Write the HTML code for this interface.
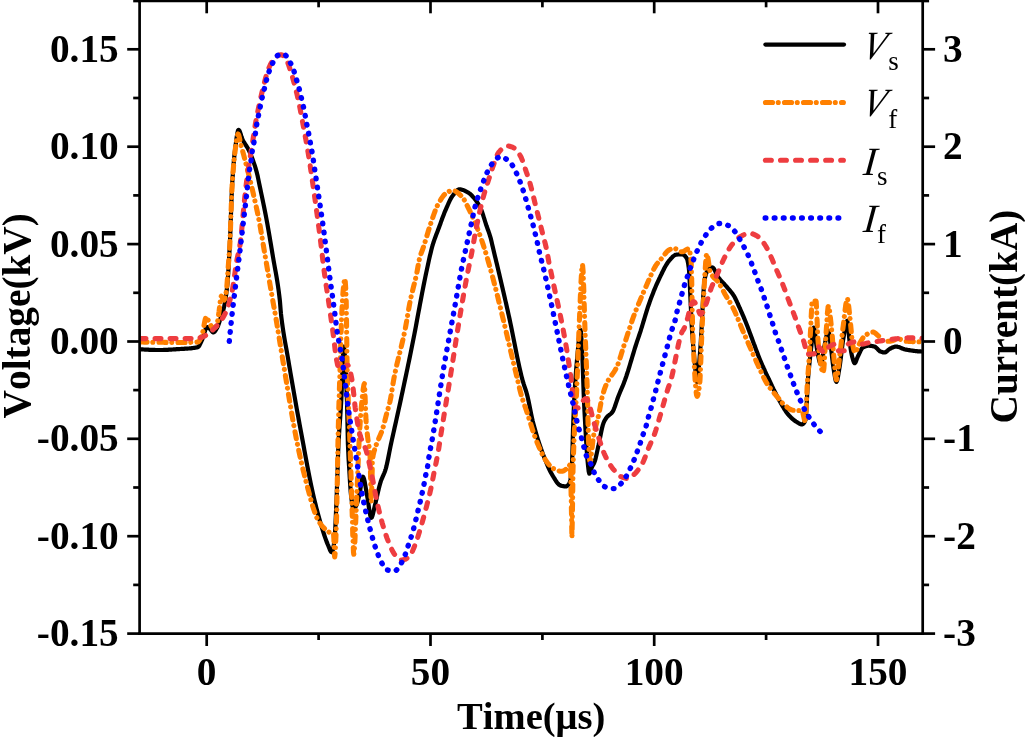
<!DOCTYPE html>
<html><head><meta charset="utf-8"><title>Voltage and current waveforms</title>
<style>html,body{margin:0;padding:0;background:#fff}svg{display:block}</style></head>
<body>
<svg width="1025" height="737" viewBox="0 0 1025 737">
<rect width="1025" height="737" fill="#fff"/>
<defs><clipPath id="plotclip"><rect x="139.6" y="0" width="783.1" height="633.65"/></clipPath></defs>
<g fill="none" stroke-linejoin="round" stroke-linecap="round" clip-path="url(#plotclip)">
<path d="M140.0,349.2 L140.7,349.3 L141.4,349.3 L142.1,349.4 L142.8,349.4 L143.5,349.5 L144.2,349.5 L144.9,349.6 L145.6,349.6 L146.3,349.6 L147.0,349.7 L147.7,349.7 L148.4,349.7 L149.1,349.8 L149.8,349.8 L150.5,349.8 L151.2,349.9 L151.9,349.9 L152.6,349.9 L153.3,349.9 L154.0,349.9 L154.7,349.9 L155.4,350.0 L156.1,350.0 L156.8,350.0 L157.5,350.0 L158.2,350.0 L158.9,350.0 L159.6,350.0 L160.0,350.0 L160.3,350.0 L161.0,350.0 L161.7,350.0 L162.4,350.0 L163.1,350.0 L163.8,349.9 L164.5,349.9 L165.2,349.9 L165.9,349.9 L166.6,349.8 L167.3,349.8 L168.0,349.8 L168.7,349.7 L169.4,349.7 L170.1,349.7 L170.8,349.6 L171.5,349.6 L172.2,349.5 L172.9,349.5 L173.6,349.4 L174.3,349.4 L175.0,349.3 L175.7,349.3 L176.4,349.2 L177.1,349.2 L177.8,349.2 L178.5,349.1 L179.2,349.1 L179.9,349.0 L180.0,349.0 L180.6,349.0 L181.3,348.9 L182.0,348.9 L182.7,348.8 L183.4,348.8 L184.1,348.8 L184.8,348.7 L185.5,348.7 L186.2,348.6 L186.9,348.6 L187.6,348.6 L188.3,348.5 L189.0,348.5 L189.7,348.4 L190.4,348.3 L191.1,348.3 L191.8,348.2 L192.5,348.1 L193.2,348.0 L193.9,347.9 L194.6,347.8 L195.3,347.7 L196.0,347.6 L196.7,347.4 L197.4,347.3 L197.8,347.2 L198.1,347.1 L198.8,346.4 L199.5,345.3 L200.2,343.9 L200.9,342.4 L201.6,340.8 L202.0,340.0 L202.3,339.3 L203.0,337.4 L203.7,335.1 L204.4,332.7 L205.1,330.5 L205.8,328.6 L206.5,327.4 L207.1,327.0 L207.2,327.0 L207.9,327.2 L208.6,327.7 L209.3,328.4 L210.0,329.0 L210.0,329.0 L210.7,329.7 L211.4,330.6 L212.1,331.5 L212.8,332.2 L213.4,332.4 L213.5,332.4 L214.2,332.1 L214.9,331.4 L215.6,330.4 L216.3,329.2 L217.0,328.0 L217.0,328.0 L217.7,326.6 L218.4,324.9 L219.1,322.9 L219.8,320.7 L220.5,318.5 L221.0,317.0 L221.2,316.4 L221.9,314.3 L222.6,312.2 L223.3,309.9 L224.0,307.2 L224.3,305.9 L224.7,304.0 L225.4,300.0 L226.1,295.3 L226.8,289.6 L227.4,284.0 L227.5,283.0 L228.2,273.9 L228.9,262.2 L229.6,248.9 L229.8,245.0 L230.3,233.3 L231.0,213.5 L231.7,194.4 L232.2,184.0 L232.4,180.7 L233.1,170.4 L233.8,161.6 L234.5,154.3 L235.0,150.0 L235.2,148.4 L235.9,142.9 L236.6,137.7 L237.3,133.5 L238.0,130.6 L238.6,129.8 L238.7,129.8 L239.4,130.6 L240.1,132.3 L240.8,134.5 L241.5,136.8 L242.2,138.8 L242.5,139.5 L242.9,140.3 L243.6,141.6 L244.3,142.7 L245.0,143.8 L245.7,144.9 L246.4,146.0 L247.1,147.1 L247.8,148.3 L248.3,149.3 L248.5,149.7 L249.2,151.2 L249.9,152.7 L250.6,154.3 L251.3,156.0 L252.0,157.8 L252.7,159.6 L253.2,161.0 L253.4,161.6 L254.1,163.6 L254.8,165.7 L255.5,167.9 L256.2,170.3 L256.9,172.9 L257.1,173.7 L257.6,175.8 L258.3,179.1 L259.0,182.6 L259.5,185.0 L259.7,186.0 L260.4,189.3 L261.1,192.6 L261.8,195.9 L262.5,199.2 L263.2,202.6 L263.9,206.0 L264.6,209.5 L265.3,213.0 L266.0,216.7 L266.1,217.2 L266.7,220.4 L267.4,224.2 L268.1,228.1 L268.8,232.1 L269.5,236.2 L270.2,240.3 L270.9,244.4 L271.6,248.6 L272.3,252.8 L273.0,257.0 L273.0,257.0 L273.7,261.1 L274.4,265.0 L275.1,268.9 L275.8,272.7 L276.5,276.7 L277.2,280.9 L277.9,285.4 L278.6,290.3 L279.3,295.8 L279.8,300.0 L280.0,302.0 L280.7,310.8 L281.0,314.0 L281.4,317.4 L282.1,323.0 L282.8,328.0 L283.5,332.6 L284.2,336.9 L284.9,341.0 L285.6,344.9 L286.3,348.7 L287.0,352.6 L287.7,356.5 L288.3,360.0 L288.4,360.6 L289.1,364.8 L289.8,368.9 L290.5,373.0 L291.2,377.1 L291.9,381.2 L292.6,385.2 L293.3,389.2 L294.0,393.2 L294.7,397.2 L295.4,401.1 L296.1,405.1 L296.8,409.0 L297.5,412.8 L298.2,416.7 L298.9,420.5 L299.6,424.4 L300.3,428.2 L301.0,431.9 L301.7,435.7 L302.4,439.5 L302.5,440.0 L303.1,443.2 L303.8,447.0 L304.5,450.8 L305.2,454.6 L305.9,458.3 L306.6,462.1 L307.3,465.8 L308.0,469.5 L308.7,473.2 L309.4,476.7 L310.1,480.2 L310.8,483.7 L311.5,487.0 L312.2,490.3 L312.9,493.4 L313.2,494.7 L313.6,496.4 L314.3,499.4 L315.0,502.3 L315.7,505.1 L316.4,507.9 L317.1,510.6 L317.8,513.3 L318.5,515.9 L319.2,518.4 L319.9,520.9 L320.6,523.3 L321.3,525.6 L322.0,527.9 L322.0,527.9 L322.7,530.1 L323.4,532.3 L324.1,534.5 L324.8,536.6 L325.5,538.6 L326.2,540.5 L326.9,542.4 L327.6,544.1 L328.0,545.0 L328.3,545.7 L329.0,547.5 L329.7,549.3 L330.4,550.8 L331.1,551.9 L331.8,552.3 L331.8,552.3 L332.5,551.3 L333.2,548.5 L333.9,544.3 L334.5,540.0 L334.6,539.1 L335.3,528.2 L336.0,512.1 L336.5,500.0 L336.7,495.0 L337.4,474.4 L338.1,453.5 L338.5,444.0 L338.8,438.3 L339.5,427.2 L340.2,417.5 L340.9,407.2 L341.2,402.0 L341.6,393.0 L342.3,372.9 L343.0,354.6 L343.7,346.6 L343.7,346.6 L344.4,349.8 L345.1,358.8 L345.8,372.2 L346.5,388.8 L347.0,402.0 L347.2,409.6 L347.9,444.0 L347.9,444.0 L348.6,458.9 L349.3,470.0 L349.3,470.0 L350.0,481.8 L350.7,492.0 L351.0,495.0 L351.4,498.3 L352.1,503.6 L352.8,507.5 L353.5,509.0 L353.5,509.0 L354.2,508.7 L354.9,507.9 L355.6,506.7 L356.3,505.4 L356.5,505.0 L357.0,503.8 L357.7,501.5 L358.4,498.7 L359.1,495.7 L359.5,494.0 L359.8,492.6 L360.5,488.5 L361.2,483.9 L361.9,479.8 L362.6,477.3 L363.0,476.8 L363.3,477.0 L364.0,478.7 L364.7,481.8 L365.4,485.8 L366.1,490.0 L366.8,494.0 L367.0,495.0 L367.5,497.8 L368.2,502.4 L368.9,507.4 L369.6,512.0 L370.3,515.6 L371.0,517.7 L371.3,517.9 L371.7,517.6 L372.4,516.0 L373.1,513.4 L373.8,510.3 L374.5,507.1 L375.0,505.0 L375.2,504.2 L375.9,501.3 L376.6,498.2 L377.3,495.0 L378.0,492.0 L378.6,489.5 L378.7,489.1 L379.4,486.3 L380.1,483.7 L380.8,481.3 L381.0,480.7 L381.5,479.4 L382.2,477.8 L382.9,476.2 L383.0,476.0 L383.6,474.6 L384.3,473.0 L385.0,471.2 L385.4,470.0 L385.7,469.0 L386.4,466.4 L387.1,463.3 L387.8,460.0 L388.5,456.5 L389.2,452.9 L389.9,449.3 L390.6,445.9 L391.0,444.0 L391.3,442.6 L392.0,439.4 L392.7,436.3 L393.4,433.1 L394.1,430.0 L394.8,426.8 L395.5,423.7 L396.2,420.6 L396.9,417.4 L397.6,414.3 L398.3,411.1 L399.0,407.9 L399.7,404.7 L400.4,401.5 L400.5,401.0 L401.1,398.2 L401.8,394.9 L402.5,391.7 L403.2,388.4 L403.9,385.1 L404.6,381.8 L405.3,378.5 L406.0,375.2 L406.7,371.9 L407.4,368.6 L408.1,365.2 L408.8,361.9 L409.5,358.5 L410.2,355.1 L410.9,351.7 L411.6,348.2 L412.3,344.7 L413.0,341.2 L413.7,337.7 L414.4,334.1 L415.1,330.5 L415.2,330.0 L415.8,326.8 L416.5,323.0 L417.2,319.1 L417.6,317.0 L417.9,315.4 L418.6,311.7 L419.3,308.0 L420.0,304.2 L420.7,300.5 L421.4,296.8 L422.1,293.2 L422.8,289.6 L423.5,286.0 L424.2,282.5 L424.9,279.1 L425.6,275.7 L425.9,274.3 L426.3,272.4 L427.0,269.1 L427.7,265.9 L428.4,262.6 L429.1,259.4 L429.8,256.3 L430.5,253.4 L431.2,250.5 L431.9,247.8 L432.6,245.3 L432.7,245.0 L433.3,243.0 L434.0,240.9 L434.7,238.9 L435.4,237.0 L436.1,235.1 L436.8,233.3 L437.5,231.5 L438.2,229.6 L438.5,228.8 L438.9,227.7 L439.6,225.8 L440.3,223.9 L441.0,221.9 L441.7,220.0 L442.4,218.1 L443.1,216.2 L443.8,214.4 L444.5,212.6 L445.2,210.9 L445.9,209.3 L445.9,209.3 L446.6,207.7 L447.3,206.1 L448.0,204.5 L448.7,202.9 L449.4,201.4 L450.1,199.9 L450.8,198.6 L451.5,197.4 L452.2,196.3 L452.7,195.6 L452.9,195.3 L453.6,194.5 L454.3,193.6 L455.0,192.7 L455.7,191.9 L456.4,191.1 L457.1,190.5 L457.8,189.9 L458.5,189.5 L459.2,189.3 L459.6,189.3 L459.9,189.3 L460.6,189.4 L461.3,189.5 L462.0,189.7 L462.7,189.9 L463.4,190.1 L464.1,190.4 L464.8,190.7 L465.5,191.1 L466.2,191.5 L466.9,191.9 L467.6,192.2 L468.3,192.6 L468.4,192.7 L469.0,193.1 L469.7,193.6 L470.4,194.2 L471.1,194.8 L471.8,195.5 L472.5,196.3 L473.2,197.1 L473.9,197.9 L474.6,198.7 L475.2,199.5 L475.3,199.6 L476.0,200.6 L476.7,201.5 L477.4,202.6 L478.1,203.7 L478.8,204.9 L479.5,206.2 L480.2,207.6 L480.9,209.1 L481.0,209.3 L481.6,210.7 L482.3,212.6 L483.0,214.7 L483.7,217.0 L484.4,219.2 L485.1,221.5 L485.8,223.7 L485.9,224.0 L486.5,225.8 L487.2,227.7 L487.9,229.7 L488.6,231.6 L489.3,233.7 L490.0,235.9 L490.7,238.2 L490.8,238.6 L491.4,241.0 L492.1,244.1 L492.3,245.0 L492.8,247.1 L493.5,250.0 L494.2,253.0 L494.9,255.9 L495.6,258.8 L496.3,261.7 L497.0,264.6 L497.7,267.5 L498.4,270.5 L499.1,273.4 L499.3,274.3 L499.8,276.4 L500.5,279.4 L501.2,282.4 L501.9,285.4 L502.6,288.4 L503.3,291.4 L504.0,294.5 L504.7,297.5 L505.4,300.6 L506.1,303.6 L506.8,306.7 L507.5,309.8 L508.2,313.0 L508.9,316.1 L509.1,317.0 L509.6,319.3 L510.3,322.6 L511.0,325.9 L511.7,329.3 L512.4,332.8 L513.1,336.3 L513.8,339.8 L514.5,343.4 L515.2,346.9 L515.9,350.4 L516.6,353.9 L517.3,357.3 L518.0,360.7 L518.7,364.0 L519.4,367.2 L520.1,370.3 L520.8,373.3 L521.5,376.2 L522.2,378.9 L522.5,380.0 L522.9,381.4 L523.6,383.7 L524.3,385.8 L525.0,387.9 L525.7,390.0 L526.4,392.2 L526.9,394.0 L527.1,394.8 L527.8,397.6 L528.5,400.8 L529.2,404.2 L529.9,407.7 L530.6,411.2 L531.3,414.6 L532.0,417.9 L532.7,421.0 L533.2,423.0 L533.4,423.8 L534.1,426.4 L534.8,428.9 L535.5,431.4 L536.2,433.8 L536.9,436.2 L537.6,438.5 L538.3,440.7 L539.0,442.9 L539.7,445.0 L540.4,447.0 L541.1,449.0 L541.8,451.0 L542.5,452.9 L543.0,454.2 L543.2,454.7 L543.9,456.5 L544.6,458.3 L545.3,460.1 L546.0,461.8 L546.7,463.5 L547.4,465.2 L548.1,466.8 L548.8,468.3 L549.5,469.8 L550.2,471.2 L550.9,472.6 L551.6,473.8 L552.3,475.1 L552.7,475.7 L553.0,476.2 L553.7,477.3 L554.4,478.5 L555.1,479.6 L555.8,480.7 L556.5,481.7 L557.2,482.7 L557.9,483.6 L558.6,484.3 L559.3,484.9 L560.0,485.3 L560.5,485.5 L560.7,485.6 L561.4,485.7 L562.1,485.9 L562.8,486.1 L563.5,486.2 L564.2,486.3 L564.9,486.4 L565.6,486.4 L565.9,486.4 L566.3,486.4 L567.0,486.0 L567.7,485.5 L568.4,484.8 L569.0,484.0 L569.1,483.9 L569.8,482.2 L570.5,479.4 L571.2,475.1 L571.8,470.0 L571.9,468.6 L572.6,444.5 L573.0,430.0 L573.3,421.7 L574.0,404.2 L574.5,394.0 L574.7,390.5 L575.4,379.6 L576.1,370.2 L576.8,362.1 L577.0,360.0 L577.5,354.5 L578.2,346.6 L578.9,339.3 L579.6,333.6 L580.3,330.3 L580.6,330.0 L581.0,332.1 L581.7,343.0 L582.4,357.9 L582.5,360.0 L583.1,376.6 L583.7,394.0 L583.8,396.3 L584.5,411.5 L585.2,424.7 L585.5,430.0 L585.9,436.9 L586.6,448.3 L587.3,457.8 L587.5,460.0 L588.0,465.2 L588.7,471.5 L589.3,473.7 L589.4,473.7 L590.1,472.4 L590.8,470.1 L591.5,468.0 L591.5,468.0 L592.2,466.5 L592.9,465.3 L593.6,464.0 L594.3,462.5 L594.7,461.5 L595.0,460.6 L595.7,458.1 L596.4,455.1 L597.1,451.9 L597.8,448.6 L598.5,445.3 L598.6,444.9 L599.2,442.1 L599.9,438.6 L600.6,435.0 L601.3,431.5 L602.0,428.3 L602.7,425.4 L603.4,423.3 L603.5,423.0 L604.1,421.6 L604.8,420.3 L605.5,419.1 L606.2,418.0 L606.9,417.1 L607.0,417.0 L607.6,416.3 L608.3,415.7 L609.0,415.2 L609.7,414.6 L610.4,414.1 L611.1,413.5 L611.8,412.8 L612.3,412.2 L612.5,411.9 L613.2,410.7 L613.9,409.1 L614.6,407.3 L615.3,405.3 L616.0,403.2 L616.7,401.1 L617.4,399.0 L618.1,397.0 L618.5,396.0 L618.8,395.2 L619.5,393.5 L620.2,391.8 L620.9,390.2 L621.6,388.5 L622.3,386.9 L623.0,385.2 L623.7,383.4 L624.4,381.6 L625.0,380.0 L625.1,379.7 L625.8,377.7 L626.5,375.7 L627.2,373.5 L627.9,371.4 L628.6,369.1 L629.3,366.8 L630.0,364.5 L630.7,362.2 L631.4,359.8 L632.1,357.5 L632.8,355.1 L633.5,352.8 L634.2,350.5 L634.9,348.2 L635.6,346.0 L636.3,343.8 L636.3,343.8 L637.0,341.7 L637.7,339.6 L638.4,337.6 L639.1,335.5 L639.8,333.4 L640.0,332.8 L640.5,331.3 L641.2,329.0 L641.9,326.8 L642.6,324.5 L643.3,322.2 L644.0,319.8 L644.7,317.5 L645.4,315.2 L646.1,312.9 L646.8,310.6 L647.5,308.4 L648.2,306.2 L648.9,304.2 L649.6,302.2 L649.8,301.6 L650.3,300.2 L651.0,298.3 L651.7,296.5 L652.4,294.7 L653.1,292.9 L653.8,291.1 L654.5,289.4 L655.2,287.7 L655.9,286.0 L656.6,284.4 L657.3,282.8 L658.0,281.3 L658.7,279.8 L659.4,278.3 L659.5,278.1 L660.1,276.9 L660.8,275.4 L661.5,274.0 L662.2,272.5 L662.9,271.1 L663.6,269.7 L664.3,268.3 L665.0,267.0 L665.7,265.8 L666.4,264.6 L667.1,263.5 L667.8,262.4 L668.5,261.5 L669.2,260.6 L669.3,260.5 L669.9,259.8 L670.6,259.0 L671.3,258.2 L672.0,257.5 L672.7,256.7 L673.4,256.1 L674.1,255.6 L674.8,255.1 L675.5,254.8 L676.1,254.7 L676.2,254.7 L676.9,254.6 L677.6,254.5 L678.3,254.5 L679.0,254.4 L679.7,254.4 L680.4,254.3 L681.1,254.3 L681.8,254.3 L682.0,254.3 L682.5,254.3 L683.2,254.6 L683.9,255.0 L684.6,255.6 L685.3,256.3 L686.0,257.2 L686.7,258.3 L686.9,258.6 L687.4,259.9 L688.1,263.3 L688.8,268.3 L689.0,270.0 L689.5,277.5 L690.2,293.5 L690.5,300.0 L690.9,308.4 L691.6,323.0 L692.0,330.0 L692.3,334.4 L693.0,343.7 L693.7,351.8 L694.4,359.1 L695.0,365.0 L695.1,366.0 L695.8,373.8 L696.5,380.3 L697.0,382.0 L697.2,381.7 L697.9,377.1 L698.6,369.5 L699.0,365.0 L699.3,361.7 L700.0,352.9 L700.7,342.8 L701.4,331.7 L701.5,330.0 L702.1,318.1 L702.8,303.5 L703.0,300.0 L703.5,291.8 L704.2,282.3 L704.5,280.0 L704.9,278.1 L705.6,275.2 L706.3,273.1 L707.0,271.5 L707.7,270.3 L708.0,270.0 L708.4,269.6 L709.1,269.0 L709.8,268.4 L710.5,267.9 L711.2,267.6 L711.9,267.4 L712.3,267.4 L712.6,267.5 L713.3,268.0 L714.0,268.9 L714.7,270.2 L715.4,271.7 L716.1,273.3 L716.8,274.8 L717.5,276.2 L718.1,277.1 L718.2,277.2 L718.9,278.1 L719.6,279.0 L720.3,279.8 L721.0,280.6 L721.7,281.4 L722.4,282.1 L723.1,282.8 L723.8,283.6 L724.5,284.3 L725.2,285.1 L725.9,285.9 L725.9,285.9 L726.6,286.7 L727.3,287.5 L728.0,288.3 L728.7,289.1 L729.4,289.9 L730.1,290.7 L730.8,291.6 L731.5,292.4 L732.2,293.4 L732.9,294.3 L733.6,295.4 L733.8,295.7 L734.3,296.5 L735.0,297.8 L735.7,299.2 L736.4,300.6 L737.1,302.2 L737.8,303.7 L738.5,305.3 L739.2,306.9 L739.7,308.0 L739.9,308.4 L740.6,310.0 L741.3,311.6 L742.0,313.2 L742.7,314.8 L743.4,316.4 L744.1,318.1 L744.8,319.8 L745.5,321.5 L745.7,322.0 L746.2,323.2 L746.9,325.0 L747.6,326.8 L748.3,328.7 L749.0,330.5 L749.7,332.4 L750.4,334.3 L751.1,336.2 L751.8,338.1 L752.5,340.0 L753.2,341.9 L753.9,343.7 L754.0,344.0 L754.6,345.6 L755.3,347.5 L756.0,349.4 L756.7,351.3 L757.4,353.1 L758.1,355.0 L758.8,356.8 L759.5,358.5 L759.5,358.5 L760.2,360.2 L760.9,361.8 L761.6,363.5 L762.3,365.1 L763.0,366.6 L763.7,368.2 L764.4,369.7 L765.1,371.3 L765.8,372.8 L766.5,374.3 L767.2,375.8 L767.9,377.3 L768.6,378.7 L769.1,379.8 L769.3,380.2 L770.0,381.7 L770.7,383.2 L771.4,384.7 L772.1,386.2 L772.8,387.6 L773.5,389.1 L774.2,390.5 L774.9,391.9 L775.6,393.3 L776.3,394.7 L777.0,396.1 L777.7,397.4 L778.4,398.7 L778.8,399.4 L779.1,399.9 L779.8,401.2 L780.5,402.4 L781.2,403.7 L781.9,404.9 L782.6,406.1 L783.3,407.3 L784.0,408.5 L784.7,409.6 L785.4,410.7 L786.1,411.8 L786.8,412.8 L787.5,413.7 L788.2,414.5 L788.6,415.0 L788.9,415.3 L789.6,416.1 L790.3,416.8 L791.0,417.5 L791.7,418.2 L792.4,418.8 L793.1,419.4 L793.8,420.0 L794.5,420.5 L795.2,421.0 L795.9,421.5 L796.4,421.8 L796.6,421.9 L797.3,422.4 L798.0,422.8 L798.7,423.2 L799.4,423.6 L800.1,424.0 L800.8,424.2 L801.5,424.4 L802.0,424.4 L802.2,424.4 L802.9,424.1 L803.6,423.4 L804.3,422.5 L805.0,421.1 L805.5,420.0 L805.7,419.0 L806.4,409.9 L807.1,395.9 L807.8,382.3 L808.1,377.9 L808.5,373.2 L809.2,365.8 L809.9,359.1 L810.6,352.9 L811.1,348.6 L811.3,346.8 L812.0,339.7 L812.7,332.9 L813.4,328.4 L813.8,327.6 L814.1,328.0 L814.8,331.6 L815.5,337.5 L816.2,343.7 L816.9,348.6 L816.9,348.6 L817.6,352.3 L818.3,356.1 L819.0,359.6 L819.7,362.3 L820.4,363.9 L820.8,364.2 L821.1,364.0 L821.8,361.8 L822.5,358.1 L823.2,353.6 L823.9,349.0 L824.6,345.1 L824.7,344.7 L825.3,341.9 L826.0,338.3 L826.7,335.0 L827.4,332.4 L828.1,331.1 L828.3,331.0 L828.8,332.1 L829.5,336.3 L830.2,341.7 L830.6,344.7 L830.9,346.9 L831.6,352.7 L832.3,358.9 L833.0,364.7 L833.5,368.1 L833.7,369.3 L834.4,373.8 L835.1,377.9 L835.8,380.9 L836.4,381.8 L836.5,381.8 L837.2,380.3 L837.9,377.1 L838.6,372.9 L839.3,368.7 L839.4,368.1 L840.0,364.3 L840.7,358.9 L841.4,353.1 L842.1,347.3 L842.8,342.0 L843.3,338.8 L843.5,337.6 L844.2,333.3 L844.9,329.0 L845.6,325.2 L846.3,322.3 L847.0,320.9 L847.2,320.8 L847.7,322.6 L848.4,329.3 L849.1,337.3 L849.5,340.8 L849.8,342.9 L850.5,347.8 L851.2,352.1 L851.9,355.6 L852.1,356.4 L852.6,358.3 L853.3,360.8 L854.0,362.6 L854.6,363.2 L854.7,363.2 L855.4,362.5 L856.1,361.0 L856.8,359.1 L857.5,357.3 L857.9,356.4 L858.2,355.8 L858.9,354.3 L859.6,352.8 L860.3,351.3 L861.0,349.9 L861.7,348.7 L862.4,347.9 L862.8,347.6 L863.1,347.4 L863.8,347.1 L864.5,346.7 L865.2,346.4 L865.9,346.2 L866.6,346.0 L867.3,345.8 L868.0,345.7 L868.7,345.7 L868.7,345.7 L869.4,345.7 L870.1,345.8 L870.8,345.8 L871.5,345.9 L872.2,346.1 L872.9,346.2 L873.6,346.4 L874.3,346.5 L874.5,346.6 L875.0,346.8 L875.7,347.3 L876.4,347.9 L877.1,348.6 L877.8,349.3 L878.5,350.1 L879.2,350.7 L879.9,351.3 L880.4,351.5 L880.6,351.6 L881.3,351.8 L882.0,352.1 L882.7,352.3 L883.4,352.4 L884.1,352.5 L884.3,352.5 L884.8,352.4 L885.5,352.2 L886.2,351.7 L886.9,351.2 L887.6,350.6 L888.3,349.9 L889.0,349.4 L889.7,348.9 L890.2,348.6 L890.4,348.5 L891.1,348.2 L891.8,347.8 L892.5,347.5 L893.2,347.2 L893.9,347.0 L894.6,346.8 L895.3,346.6 L896.0,346.6 L896.0,346.6 L896.7,346.6 L897.4,346.7 L898.1,346.9 L898.8,347.1 L899.5,347.3 L900.2,347.6 L900.9,347.9 L901.6,348.2 L902.3,348.5 L903.0,348.8 L903.7,349.0 L904.4,349.3 L905.1,349.5 L905.8,349.6 L905.8,349.6 L906.5,349.7 L907.2,349.8 L907.9,350.0 L908.6,350.1 L909.3,350.2 L910.0,350.3 L910.7,350.4 L911.4,350.5 L912.1,350.6 L912.8,350.7 L913.5,350.8 L914.2,350.9 L914.9,351.0 L915.6,351.1 L916.3,351.1 L917.0,351.2 L917.7,351.3 L918.4,351.3 L919.1,351.4 L919.8,351.4 L920.5,351.4 L921.2,351.5 L921.9,351.5 L922.6,351.5 L923.0,351.5" stroke="#000" stroke-width="4.2"/>
<path d="M140.0,342.0 L140.7,342.0 L141.4,342.0 L142.1,342.0 L142.8,342.0 L143.5,342.1 L144.2,342.1 L144.9,342.1 L145.6,342.1 L146.3,342.1 L147.0,342.1 L147.7,342.1 L148.4,342.1 L149.1,342.2 L149.8,342.2 L150.5,342.2 L151.2,342.2 L151.9,342.2 L152.6,342.2 L153.3,342.2 L154.0,342.2 L154.7,342.2 L155.4,342.2 L156.1,342.3 L156.8,342.3 L157.5,342.3 L158.2,342.3 L158.9,342.3 L159.6,342.3 L160.0,342.3 L160.3,342.3 L161.0,342.3 L161.7,342.3 L162.4,342.3 L163.1,342.3 L163.8,342.3 L164.5,342.4 L165.2,342.4 L165.9,342.4 L166.6,342.4 L167.3,342.4 L168.0,342.4 L168.7,342.4 L169.4,342.4 L170.1,342.4 L170.8,342.4 L171.5,342.4 L172.2,342.5 L172.9,342.5 L173.6,342.5 L174.3,342.5 L175.0,342.5 L175.7,342.5 L176.4,342.5 L177.1,342.5 L177.8,342.5 L178.5,342.5 L179.2,342.5 L179.9,342.5 L180.0,342.5 L180.6,342.5 L181.3,342.5 L182.0,342.5 L182.7,342.5 L183.4,342.5 L184.1,342.5 L184.8,342.5 L185.5,342.5 L186.2,342.5 L186.9,342.4 L187.6,342.4 L188.3,342.4 L189.0,342.4 L189.7,342.4 L190.4,342.4 L191.1,342.3 L191.8,342.3 L192.5,342.3 L193.2,342.3 L193.9,342.2 L194.6,342.2 L195.3,342.2 L196.0,342.1 L196.7,342.1 L197.4,342.0 L197.8,342.0 L198.1,341.9 L198.8,341.4 L199.5,340.4 L200.2,339.1 L200.9,337.6 L201.6,336.0 L202.0,335.0 L202.3,334.1 L203.0,331.1 L203.7,327.2 L204.4,323.2 L205.1,319.7 L205.8,317.4 L206.3,316.8 L206.5,316.9 L207.2,317.8 L207.9,319.5 L208.6,321.2 L209.0,322.0 L209.3,322.5 L210.0,323.9 L210.7,325.3 L211.4,326.5 L212.1,327.5 L212.8,328.0 L213.0,328.0 L213.5,328.0 L214.2,327.7 L214.9,327.4 L215.6,326.9 L216.3,326.2 L216.5,326.0 L217.0,324.7 L217.7,321.0 L218.4,316.1 L219.0,312.0 L219.1,311.3 L219.8,305.1 L220.5,298.9 L221.2,296.0 L221.2,296.0 L221.9,296.6 L222.6,298.0 L223.3,299.4 L224.0,300.0 L224.0,300.0 L224.7,299.0 L225.4,296.3 L226.1,292.5 L226.5,290.0 L226.8,287.3 L227.5,277.5 L228.0,270.0 L228.2,267.3 L228.9,258.4 L229.6,248.4 L229.8,245.0 L230.3,233.9 L231.0,214.0 L231.7,194.4 L232.2,184.0 L232.4,180.9 L233.1,171.2 L233.8,163.0 L234.5,156.2 L235.0,152.0 L235.2,150.4 L235.9,144.6 L236.6,139.3 L237.3,135.5 L238.0,134.0 L238.0,134.0 L238.7,135.0 L239.4,137.6 L240.1,141.0 L240.8,144.2 L241.0,145.0 L241.5,146.9 L242.2,149.5 L242.9,152.1 L243.6,154.7 L244.3,157.4 L245.0,160.0 L245.7,162.7 L246.4,165.4 L247.1,168.1 L247.8,170.9 L248.5,173.7 L249.2,176.6 L249.3,177.0 L249.9,179.5 L250.6,182.4 L251.3,185.3 L252.0,188.2 L252.7,191.2 L253.4,194.2 L254.1,197.2 L254.8,200.3 L255.5,203.4 L256.2,206.6 L256.9,209.9 L257.6,213.2 L258.3,216.6 L259.0,220.1 L259.5,222.7 L259.7,223.8 L260.4,227.6 L261.1,231.7 L261.8,236.0 L262.5,240.2 L263.2,244.4 L263.3,245.0 L263.9,248.5 L264.6,252.6 L265.3,256.8 L266.0,260.9 L266.7,265.0 L267.4,269.2 L268.1,273.3 L268.8,277.4 L269.5,281.5 L270.2,285.6 L270.9,289.7 L271.6,293.7 L272.3,297.7 L272.7,300.0 L273.0,301.7 L273.7,305.6 L274.4,309.5 L275.1,313.4 L275.2,314.0 L275.8,317.5 L276.5,321.6 L277.2,325.9 L277.9,330.1 L278.6,334.4 L279.3,338.7 L280.0,343.0 L280.7,347.3 L281.4,351.6 L282.1,355.8 L282.8,360.0 L282.8,360.0 L283.5,364.2 L284.2,368.4 L284.9,372.6 L285.6,376.8 L286.3,381.1 L287.0,385.4 L287.7,389.6 L288.4,393.8 L289.1,398.1 L289.8,402.3 L290.5,406.4 L291.2,410.5 L291.9,414.6 L292.6,418.6 L293.3,422.5 L294.0,426.4 L294.7,430.2 L295.4,433.9 L296.1,437.5 L296.6,440.0 L296.8,441.0 L297.5,444.4 L298.2,447.8 L298.9,451.2 L299.6,454.4 L300.3,457.7 L301.0,460.8 L301.7,463.9 L302.4,466.9 L303.1,469.9 L303.8,472.7 L304.5,475.5 L305.2,478.2 L305.4,479.0 L305.9,480.9 L306.6,483.6 L307.3,486.3 L308.0,489.0 L308.7,491.6 L309.4,494.3 L310.1,496.9 L310.8,499.4 L311.5,501.9 L312.2,504.3 L312.9,506.7 L313.6,508.9 L314.3,511.0 L315.0,513.1 L315.7,514.9 L316.4,516.7 L317.1,518.2 L317.8,519.6 L318.0,520.0 L318.5,520.9 L319.2,522.0 L319.9,523.1 L320.6,524.1 L321.3,525.0 L322.0,525.9 L322.7,526.7 L323.4,527.4 L324.0,528.0 L324.1,528.1 L324.8,528.8 L325.5,529.4 L326.2,530.1 L326.9,530.7 L327.6,531.3 L328.3,531.8 L329.0,532.1 L329.7,532.4 L330.0,532.5 L330.4,532.6 L331.1,532.7 L331.8,532.7 L332.5,532.8 L333.2,532.9 L333.5,533.0 L333.9,539.3 L334.6,556.5 L334.7,557.0 L335.3,551.5 L336.0,534.9 L336.5,520.0 L336.7,512.7 L337.4,475.6 L337.5,470.0 L338.0,440.0 L338.1,435.4 L338.8,408.5 L339.5,386.2 L340.0,370.0 L340.2,363.0 L340.9,337.7 L341.5,320.0 L341.6,317.7 L342.3,303.1 L343.0,292.2 L343.2,290.0 L343.7,285.2 L344.4,280.0 L344.9,278.6 L345.1,279.2 L345.8,289.7 L346.2,300.0 L346.5,319.2 L347.0,360.0 L347.2,368.3 L347.9,391.0 L348.6,407.8 L349.3,424.5 L349.5,430.0 L350.0,444.8 L350.7,466.1 L351.4,487.1 L351.5,490.0 L352.1,510.3 L352.8,535.5 L353.5,552.3 L353.8,554.3 L354.2,552.3 L354.9,541.2 L355.6,524.4 L356.3,506.7 L356.6,500.0 L357.0,491.2 L357.7,474.4 L358.4,457.2 L359.1,441.3 L359.7,430.0 L359.8,428.4 L360.5,417.7 L361.2,408.4 L361.9,400.9 L362.0,400.0 L362.6,394.4 L363.3,388.4 L364.0,384.4 L364.4,383.7 L364.7,386.4 L365.4,405.2 L366.0,420.0 L366.1,421.4 L366.8,429.5 L367.5,435.8 L368.0,440.0 L368.2,441.6 L368.9,445.8 L369.6,450.7 L370.0,455.0 L370.3,463.7 L371.0,496.5 L371.3,502.2 L371.7,492.1 L372.4,461.6 L372.5,460.0 L373.1,455.5 L373.8,452.4 L374.5,450.0 L374.5,450.0 L375.2,447.7 L375.9,445.6 L376.6,443.8 L377.3,442.2 L378.0,440.5 L378.6,439.0 L378.7,438.7 L379.4,437.0 L380.1,435.4 L380.8,433.8 L381.5,432.1 L382.2,430.2 L382.5,429.3 L382.9,428.0 L383.6,425.6 L384.3,422.9 L385.0,420.1 L385.7,417.3 L386.4,414.6 L386.4,414.6 L387.1,412.1 L387.8,409.6 L388.5,407.2 L389.2,404.6 L389.9,401.8 L390.3,400.0 L390.6,398.5 L391.3,394.6 L392.0,390.2 L392.7,385.7 L393.4,381.3 L394.0,378.0 L394.1,377.5 L394.8,374.0 L395.5,370.7 L396.2,367.5 L396.9,364.4 L397.6,361.5 L398.3,358.6 L399.0,355.7 L399.7,352.9 L400.4,350.1 L401.1,347.3 L401.8,344.4 L402.5,341.4 L403.2,338.4 L403.9,335.2 L404.6,332.0 L405.0,330.0 L405.3,328.5 L406.0,324.7 L406.7,320.8 L407.4,316.7 L408.1,312.5 L408.8,308.5 L409.5,304.6 L410.2,301.0 L410.4,300.0 L410.9,297.7 L411.6,294.6 L412.3,291.7 L413.0,288.9 L413.7,286.1 L414.4,283.4 L415.1,280.6 L415.8,277.6 L416.5,274.5 L416.6,274.0 L417.2,270.9 L417.9,267.0 L418.6,263.1 L419.3,259.6 L419.7,257.9 L420.0,256.8 L420.7,254.6 L421.4,252.6 L422.1,250.8 L422.8,248.9 L423.4,247.2 L423.5,246.9 L424.2,244.7 L424.9,242.5 L425.6,240.2 L426.3,237.9 L427.0,235.5 L427.7,233.2 L428.4,230.8 L429.1,228.6 L429.8,226.3 L430.5,224.2 L431.2,222.1 L431.3,221.8 L431.9,220.1 L432.6,218.0 L433.3,216.0 L434.0,214.0 L434.7,212.1 L435.4,210.2 L436.1,208.5 L436.8,206.8 L437.5,205.3 L438.1,204.2 L438.2,204.0 L438.9,202.8 L439.6,201.6 L440.3,200.4 L441.0,199.2 L441.7,198.1 L442.4,197.1 L443.1,196.1 L443.8,195.3 L444.5,194.5 L445.2,193.8 L445.9,193.2 L446.6,192.7 L446.9,192.5 L447.3,192.3 L448.0,191.9 L448.7,191.6 L449.4,191.3 L450.1,191.0 L450.8,190.8 L451.5,190.6 L452.2,190.5 L452.7,190.5 L452.9,190.5 L453.6,190.6 L454.3,190.8 L455.0,191.0 L455.7,191.4 L456.4,191.8 L457.1,192.3 L457.8,192.8 L458.5,193.4 L459.2,194.1 L459.9,194.7 L460.6,195.4 L461.3,196.1 L462.0,196.9 L462.5,197.4 L462.7,197.6 L463.4,198.5 L464.1,199.6 L464.8,200.8 L465.5,202.2 L466.2,203.6 L466.9,205.0 L467.6,206.5 L468.3,207.9 L468.4,208.1 L469.0,209.3 L469.7,210.7 L470.4,212.2 L471.1,213.7 L471.8,215.2 L472.5,216.8 L473.2,218.4 L473.9,220.0 L474.6,221.6 L475.3,223.3 L476.0,225.0 L476.7,226.7 L477.1,227.7 L477.4,228.5 L478.1,230.3 L478.8,232.1 L479.5,234.0 L480.2,236.0 L480.9,237.9 L481.6,240.0 L482.3,242.0 L483.0,244.1 L483.7,246.3 L484.0,247.2 L484.4,248.4 L485.1,250.7 L485.8,252.9 L486.5,255.3 L487.2,257.6 L487.9,260.0 L488.6,262.5 L489.3,264.9 L490.0,267.4 L490.7,270.0 L491.4,272.5 L491.8,274.0 L492.1,275.1 L492.8,277.7 L493.5,280.4 L494.2,283.0 L494.9,285.7 L495.6,288.4 L496.3,291.2 L497.0,294.0 L497.7,296.7 L498.4,299.6 L499.1,302.4 L499.8,305.2 L500.5,308.1 L501.2,311.0 L501.9,313.9 L502.6,316.8 L503.3,319.7 L504.0,322.7 L504.7,325.6 L505.4,328.6 L506.1,331.5 L506.8,334.5 L507.5,337.5 L508.2,340.4 L508.9,343.4 L509.6,346.4 L510.3,349.4 L511.0,352.3 L511.7,355.3 L512.4,358.3 L513.1,361.2 L513.8,364.2 L514.5,367.1 L515.2,370.0 L515.9,373.0 L516.6,375.9 L517.3,378.8 L517.6,380.0 L518.0,381.7 L518.7,384.7 L519.4,387.7 L520.1,390.6 L520.8,393.3 L521.0,394.0 L521.5,395.7 L522.2,398.1 L522.9,400.3 L523.6,402.4 L524.3,404.5 L525.0,406.5 L525.7,408.5 L526.4,410.5 L527.1,412.6 L527.3,413.2 L527.8,414.7 L528.5,416.9 L529.2,419.1 L529.9,421.3 L530.6,423.6 L531.3,425.8 L532.0,428.0 L532.7,430.2 L533.4,432.3 L534.1,434.4 L534.8,436.4 L535.5,438.4 L536.2,440.3 L536.9,442.0 L537.1,442.5 L537.6,443.7 L538.3,445.3 L539.0,447.0 L539.7,448.5 L540.4,450.1 L541.1,451.6 L541.8,453.1 L542.5,454.5 L543.2,455.9 L543.9,457.2 L544.6,458.4 L545.3,459.6 L546.0,460.7 L546.7,461.7 L546.9,462.0 L547.4,462.7 L548.1,463.6 L548.8,464.5 L549.5,465.4 L550.2,466.2 L550.9,466.9 L551.6,467.5 L552.3,468.1 L552.7,468.3 L553.0,468.5 L553.7,468.8 L554.4,469.2 L555.1,469.5 L555.8,469.9 L556.5,470.2 L557.2,470.4 L557.9,470.7 L558.6,470.9 L559.3,471.1 L560.0,471.2 L560.7,471.3 L561.4,471.3 L561.5,471.3 L562.1,471.3 L562.8,471.1 L563.5,470.8 L564.2,470.5 L564.9,470.0 L565.6,469.5 L566.3,469.0 L567.0,468.4 L567.7,467.8 L568.3,467.3 L568.4,467.2 L569.1,466.1 L569.8,465.0 L570.5,464.4 L570.5,464.4 L571.2,497.3 L571.9,536.5 L572.0,537.4 L572.6,499.4 L573.0,470.0 L573.3,459.3 L574.0,440.8 L574.5,430.0 L574.7,425.9 L575.4,413.5 L576.1,401.7 L576.5,394.0 L576.8,387.3 L577.5,369.1 L578.2,349.9 L578.9,332.2 L579.0,330.0 L579.6,315.9 L580.3,298.4 L581.0,282.3 L581.7,270.2 L582.4,264.7 L582.5,264.6 L583.1,271.2 L583.8,290.7 L584.5,314.7 L585.0,330.0 L585.2,335.2 L585.9,352.5 L586.6,370.2 L587.3,390.7 L587.4,394.0 L588.0,420.8 L588.5,440.0 L588.7,444.7 L589.4,458.3 L589.8,461.0 L590.1,460.7 L590.8,457.8 L591.5,452.9 L592.2,446.9 L592.9,440.8 L593.6,435.8 L593.8,434.7 L594.3,432.3 L595.0,429.3 L595.7,426.5 L596.4,423.9 L597.1,421.3 L597.8,418.6 L598.5,415.6 L598.6,415.2 L599.2,412.3 L599.9,408.6 L600.6,404.7 L601.3,401.0 L602.0,397.6 L602.5,395.6 L602.7,394.9 L603.4,392.5 L604.1,390.2 L604.8,388.2 L605.5,386.3 L606.2,384.6 L606.9,383.0 L607.0,382.8 L607.6,381.6 L608.3,380.3 L609.0,379.1 L609.7,378.0 L610.4,377.0 L611.1,376.0 L611.8,375.1 L612.5,374.1 L613.2,373.1 L613.9,372.1 L614.6,371.0 L615.3,369.9 L616.0,368.6 L616.7,367.2 L616.7,367.2 L617.4,365.6 L618.1,363.8 L618.8,361.9 L619.5,359.8 L620.2,357.6 L620.9,355.4 L621.6,353.1 L622.3,350.8 L623.0,348.5 L623.7,346.3 L624.4,344.1 L624.5,343.8 L625.1,342.0 L625.8,339.9 L626.5,337.7 L627.2,335.5 L627.9,333.4 L628.6,331.2 L629.3,329.1 L630.0,326.9 L630.7,324.8 L631.4,322.7 L632.1,320.7 L632.8,318.6 L633.5,316.7 L634.2,314.8 L634.3,314.5 L634.9,312.9 L635.6,311.1 L636.3,309.4 L637.0,307.7 L637.7,306.0 L638.4,304.3 L639.1,302.6 L639.8,301.0 L640.0,300.5 L640.5,299.3 L641.2,297.6 L641.9,296.0 L642.6,294.3 L643.3,292.7 L644.0,291.1 L644.7,289.4 L645.4,287.8 L646.0,286.5 L646.1,286.3 L646.8,284.7 L647.5,283.1 L648.2,281.4 L648.9,279.8 L649.6,278.2 L650.3,276.5 L651.0,274.9 L651.7,273.4 L652.4,271.9 L653.1,270.4 L653.8,269.1 L654.5,267.8 L655.2,266.6 L655.8,265.6 L655.9,265.4 L656.6,264.4 L657.3,263.5 L658.0,262.6 L658.7,261.8 L659.4,261.0 L660.1,260.2 L660.8,259.4 L661.5,258.6 L661.5,258.6 L662.2,257.7 L662.9,256.8 L663.6,255.9 L664.3,254.9 L665.0,254.0 L665.7,253.1 L666.4,252.2 L667.1,251.5 L667.8,250.8 L668.5,250.3 L669.2,249.8 L669.3,249.8 L669.9,249.5 L670.6,249.3 L671.3,249.0 L672.0,248.8 L672.7,248.6 L673.4,248.5 L674.1,248.4 L674.2,248.4 L674.8,248.5 L675.5,248.7 L676.2,249.0 L676.9,249.3 L677.6,249.8 L678.3,250.2 L679.0,250.7 L679.7,251.1 L680.4,251.4 L681.1,251.7 L681.8,251.8 L682.0,251.8 L682.5,251.8 L683.2,251.6 L683.9,251.2 L684.6,250.8 L685.3,250.4 L686.0,249.9 L686.7,249.5 L687.4,249.1 L688.1,248.9 L688.8,248.8 L688.8,248.8 L689.5,250.1 L690.2,253.7 L690.9,259.4 L691.2,262.5 L691.6,274.7 L692.3,313.7 L692.7,330.0 L693.0,337.3 L693.7,353.4 L694.4,367.8 L695.1,379.9 L695.8,389.1 L696.5,394.8 L697.1,396.4 L697.2,396.4 L697.9,394.9 L698.6,391.6 L699.3,387.0 L699.6,384.7 L700.0,379.7 L700.7,364.0 L701.4,344.8 L702.0,330.0 L702.1,327.9 L702.8,312.9 L703.5,298.7 L704.0,290.0 L704.2,286.7 L704.9,274.6 L705.6,263.3 L706.3,255.6 L706.8,253.7 L707.0,253.9 L707.7,256.4 L708.4,260.9 L709.1,266.1 L709.8,270.5 L710.3,272.3 L710.5,272.7 L711.2,274.1 L711.9,275.2 L712.6,276.1 L713.3,277.0 L714.0,277.7 L714.7,278.3 L715.4,279.0 L716.1,279.6 L716.8,280.4 L717.5,281.2 L718.1,282.0 L718.2,282.1 L718.9,283.2 L719.6,284.3 L720.3,285.5 L721.0,286.8 L721.7,288.0 L722.4,289.3 L723.1,290.6 L723.8,291.9 L724.5,293.2 L725.2,294.5 L725.9,295.7 L725.9,295.7 L726.6,296.9 L727.3,298.1 L728.0,299.2 L728.7,300.4 L729.4,301.5 L730.1,302.7 L730.8,303.9 L731.5,305.1 L732.2,306.3 L732.9,307.6 L733.6,309.0 L733.8,309.4 L734.3,310.4 L735.0,312.0 L735.7,313.6 L736.4,315.2 L737.1,316.9 L737.8,318.6 L738.5,320.3 L739.2,322.0 L739.6,323.0 L739.9,323.7 L740.6,325.4 L741.3,327.1 L742.0,328.8 L742.5,330.0 L742.7,330.5 L743.4,332.1 L744.1,333.7 L744.8,335.3 L745.5,336.9 L746.2,338.5 L746.9,340.1 L747.6,341.7 L748.3,343.3 L749.0,344.9 L749.7,346.4 L750.4,348.0 L751.1,349.6 L751.5,350.5 L751.8,351.2 L752.5,352.8 L753.2,354.4 L753.9,356.0 L754.6,357.6 L755.3,359.2 L756.0,360.8 L756.7,362.4 L757.4,364.0 L758.1,365.5 L758.8,367.0 L759.3,368.1 L759.5,368.5 L760.2,370.0 L760.9,371.5 L761.6,373.1 L762.3,374.6 L763.0,376.1 L763.7,377.5 L764.4,378.9 L765.1,380.3 L765.8,381.6 L766.5,382.8 L767.1,383.8 L767.2,384.0 L767.9,385.0 L768.6,386.1 L769.3,387.1 L770.0,388.0 L770.7,388.9 L771.4,389.8 L772.1,390.7 L772.8,391.5 L773.5,392.4 L774.2,393.2 L774.9,394.0 L775.6,394.9 L776.3,395.7 L776.9,396.4 L777.0,396.5 L777.7,397.4 L778.4,398.2 L779.1,399.1 L779.8,400.0 L780.5,400.8 L781.2,401.7 L781.9,402.5 L782.6,403.2 L783.3,403.9 L784.0,404.6 L784.7,405.2 L784.7,405.2 L785.4,405.8 L786.1,406.3 L786.8,406.9 L787.5,407.5 L788.2,408.0 L788.9,408.5 L789.6,409.0 L790.3,409.4 L791.0,409.7 L791.7,409.9 L792.4,410.1 L792.5,410.1 L793.1,410.2 L793.8,410.2 L794.5,410.3 L795.2,410.3 L795.9,410.4 L796.6,410.4 L797.3,410.4 L798.0,410.4 L798.7,410.5 L799.4,410.5 L800.1,410.6 L800.8,410.6 L801.5,410.7 L802.0,410.8 L802.2,410.9 L802.9,412.8 L803.6,416.0 L804.3,419.3 L805.0,421.6 L805.4,422.0 L805.7,419.9 L806.4,404.5 L807.1,387.7 L807.1,387.7 L807.8,377.1 L808.5,367.5 L809.1,358.4 L809.2,356.7 L809.9,343.6 L810.6,329.5 L811.1,319.3 L811.3,314.6 L812.0,301.0 L812.0,301.0 L812.7,301.0 L813.4,301.0 L814.1,301.0 L814.8,301.0 L815.5,301.0 L816.0,301.0 L816.2,301.9 L816.9,315.4 L817.6,333.4 L817.9,338.8 L818.3,344.0 L819.0,351.9 L819.7,357.7 L819.8,358.4 L820.4,362.2 L821.1,366.3 L821.8,369.8 L822.5,372.1 L823.2,373.0 L823.2,373.0 L823.9,368.3 L824.6,357.3 L825.3,344.8 L825.7,338.8 L826.0,334.6 L826.7,323.6 L827.4,313.2 L828.1,306.8 L828.4,306.1 L828.8,306.7 L829.5,310.1 L830.2,315.7 L830.9,322.4 L831.6,329.1 L831.6,329.1 L832.3,336.7 L833.0,345.8 L833.7,355.1 L834.4,363.2 L834.5,364.2 L835.1,370.6 L835.8,377.4 L836.4,379.8 L836.5,379.8 L837.2,377.3 L837.9,372.0 L838.6,365.5 L839.3,359.2 L839.4,358.4 L840.0,353.5 L840.7,347.5 L841.4,341.2 L842.1,335.0 L842.8,329.1 L843.3,325.2 L843.5,323.7 L844.2,317.8 L844.9,311.6 L845.6,306.0 L846.3,301.5 L847.0,299.1 L847.3,298.8 L847.7,299.5 L848.4,303.6 L849.1,309.9 L849.8,316.6 L850.1,319.3 L850.5,323.1 L851.2,330.8 L851.9,338.5 L852.6,344.2 L852.7,344.7 L853.3,347.6 L854.0,350.6 L854.7,352.3 L855.0,352.5 L855.4,352.3 L856.1,351.4 L856.8,349.8 L857.5,348.0 L858.2,346.2 L858.9,344.7 L858.9,344.7 L859.6,343.5 L860.3,342.2 L861.0,341.0 L861.7,339.8 L862.4,338.7 L863.1,337.7 L863.8,336.9 L864.5,336.1 L864.8,335.9 L865.2,335.6 L865.9,335.1 L866.6,334.6 L867.3,334.1 L868.0,333.6 L868.7,333.2 L869.4,332.8 L870.1,332.5 L870.8,332.3 L871.5,332.1 L872.2,332.0 L872.6,332.0 L872.9,332.0 L873.6,332.2 L874.3,332.5 L875.0,332.9 L875.7,333.5 L876.4,334.1 L877.1,334.7 L877.8,335.4 L878.4,335.9 L878.5,336.0 L879.2,336.9 L879.9,338.0 L880.6,339.1 L881.3,340.1 L882.0,340.7 L882.3,340.8 L882.7,340.8 L883.4,340.9 L884.1,341.0 L884.8,341.0 L885.5,341.1 L886.2,341.1 L886.9,341.1 L887.6,341.2 L888.3,341.2 L889.0,341.2 L889.7,341.2 L890.2,341.2 L890.4,341.2 L891.1,341.1 L891.8,340.9 L892.5,340.7 L893.2,340.4 L893.9,340.1 L894.6,339.8 L895.3,339.5 L896.0,339.2 L896.7,339.0 L897.4,338.8 L898.0,338.8 L898.1,338.8 L898.8,338.9 L899.5,339.0 L900.2,339.2 L900.9,339.5 L901.6,339.8 L902.3,340.1 L903.0,340.4 L903.7,340.7 L904.4,340.9 L905.1,341.1 L905.8,341.2 L905.8,341.2 L906.5,341.2 L907.2,341.3 L907.9,341.3 L908.6,341.4 L909.3,341.4 L910.0,341.5 L910.7,341.5 L911.4,341.5 L912.1,341.6 L912.8,341.6 L913.5,341.6 L914.2,341.6 L914.9,341.7 L915.6,341.7 L916.3,341.7 L917.0,341.7 L917.7,341.7 L918.4,341.8 L919.1,341.8 L919.8,341.8 L920.5,341.8 L921.2,341.8 L921.9,341.8 L922.6,341.8 L923.0,341.8" stroke="#FF8000" stroke-width="5.1" stroke-dasharray="7.1 5.7 0.01 6.2"/>
<path d="M140.0,338.6 L140.7,338.6 L141.4,338.6 L142.1,338.6 L142.8,338.6 L143.5,338.6 L144.2,338.6 L144.9,338.6 L145.6,338.6 L146.3,338.6 L147.0,338.6 L147.7,338.6 L148.4,338.6 L149.1,338.6 L149.8,338.6 L150.5,338.6 L151.2,338.6 L151.9,338.6 L152.6,338.6 L153.3,338.6 L154.0,338.6 L154.7,338.6 L155.4,338.6 L156.1,338.6 L156.8,338.6 L157.5,338.6 L158.2,338.6 L158.9,338.6 L159.6,338.6 L160.3,338.6 L161.0,338.6 L161.7,338.6 L162.4,338.6 L163.1,338.6 L163.8,338.6 L164.5,338.6 L165.2,338.6 L165.9,338.6 L166.6,338.6 L167.3,338.6 L168.0,338.6 L168.7,338.6 L169.4,338.6 L170.1,338.6 L170.8,338.6 L171.5,338.6 L172.2,338.6 L172.9,338.6 L173.6,338.6 L174.3,338.6 L175.0,338.6 L175.7,338.6 L176.4,338.6 L177.1,338.6 L177.8,338.6 L178.5,338.6 L179.2,338.6 L179.9,338.6 L180.6,338.6 L181.3,338.6 L182.0,338.6 L182.7,338.6 L183.4,338.6 L184.1,338.6 L184.8,338.6 L185.5,338.6 L186.2,338.6 L186.9,338.6 L187.6,338.6 L188.3,338.6 L189.0,338.6 L189.7,338.6 L190.4,338.6 L191.1,338.6 L191.8,338.6 L192.5,338.6 L193.2,338.6 L193.9,338.6 L194.6,338.6 L194.6,338.6 L195.3,338.6 L196.0,338.5 L196.7,338.4 L197.4,338.3 L198.1,338.2 L198.8,338.0 L199.5,337.9 L200.2,337.7 L200.9,337.5 L201.6,337.2 L202.3,337.0 L202.4,337.0 L203.0,336.8 L203.7,336.5 L204.4,336.2 L205.1,335.8 L205.8,335.4 L206.5,335.0 L207.2,334.5 L207.9,334.0 L208.6,333.5 L209.3,332.9 L210.0,332.4 L210.7,331.7 L211.4,331.1 L212.1,330.5 L212.8,329.8 L213.5,329.2 L214.2,328.5 L214.9,327.8 L215.0,327.7 L215.6,327.1 L216.3,326.4 L217.0,325.6 L217.7,324.8 L218.4,324.0 L219.1,323.1 L219.8,322.2 L220.5,321.3 L221.2,320.3 L221.9,319.2 L222.6,318.1 L223.3,316.9 L224.0,315.7 L224.7,314.4 L225.4,313.0 L225.9,312.0 L226.1,311.6 L226.8,310.0 L227.5,308.1 L228.2,306.1 L228.9,303.9 L229.6,301.5 L230.3,298.9 L231.0,296.1 L231.7,293.1 L232.0,291.8 L232.4,289.9 L233.1,285.8 L233.8,281.1 L234.5,276.1 L235.2,271.0 L235.9,266.1 L236.6,261.7 L236.8,260.6 L237.3,258.0 L238.0,254.9 L238.7,251.8 L239.4,248.5 L240.0,245.0 L240.1,244.3 L240.8,238.8 L241.5,232.1 L242.2,224.6 L242.9,216.8 L243.6,209.1 L244.3,201.9 L244.5,200.0 L245.0,195.4 L245.7,189.1 L246.4,183.1 L247.0,178.3 L247.1,177.5 L247.8,172.5 L248.5,167.8 L249.2,163.3 L249.8,159.5 L249.9,158.9 L250.6,154.5 L251.3,150.2 L252.0,146.0 L252.7,141.6 L252.7,141.6 L253.4,137.0 L254.1,132.3 L254.8,127.6 L255.4,124.0 L255.5,123.4 L256.2,119.6 L256.9,115.9 L257.6,112.5 L258.3,109.1 L259.0,105.8 L259.0,105.8 L259.7,102.5 L260.4,99.3 L261.1,96.2 L261.8,93.2 L262.5,90.2 L263.0,88.2 L263.2,87.4 L263.9,84.6 L264.6,81.9 L265.3,79.2 L266.0,76.6 L266.7,74.2 L267.4,72.0 L267.8,70.9 L268.1,70.1 L268.8,68.3 L269.5,66.6 L270.2,65.0 L270.9,63.6 L271.5,62.5 L271.6,62.3 L272.3,61.1 L273.0,60.0 L273.7,58.9 L274.4,58.0 L275.1,57.2 L275.8,56.6 L276.0,56.5 L276.5,56.2 L277.2,55.9 L277.9,55.6 L278.6,55.3 L279.3,55.1 L280.0,55.0 L280.7,54.8 L281.4,54.8 L281.5,54.8 L282.1,54.9 L282.8,55.3 L283.5,55.9 L284.2,56.7 L284.9,57.6 L285.6,58.6 L286.3,59.7 L286.5,60.0 L287.0,60.9 L287.7,62.4 L288.4,64.3 L289.1,66.4 L289.8,68.5 L290.5,70.7 L290.5,70.7 L291.2,72.9 L291.9,75.1 L292.6,77.5 L293.3,80.0 L294.0,82.5 L294.7,85.1 L295.4,87.8 L295.5,88.2 L296.1,90.6 L296.8,93.5 L297.5,96.5 L298.2,99.6 L298.9,102.9 L299.6,106.2 L299.6,106.2 L300.3,109.7 L301.0,113.4 L301.7,117.1 L302.4,121.0 L303.0,124.2 L303.1,124.7 L303.8,128.5 L304.5,132.2 L305.2,135.9 L305.9,139.8 L306.3,142.0 L306.6,143.7 L307.3,147.8 L308.0,151.9 L308.7,156.1 L309.3,159.9 L309.4,160.5 L310.1,165.1 L310.8,169.8 L311.5,174.6 L312.0,178.1 L312.2,179.5 L312.9,184.4 L313.6,189.3 L314.3,194.2 L315.0,199.2 L315.7,204.2 L316.4,209.3 L317.1,214.4 L317.8,219.6 L318.5,224.9 L319.2,230.2 L319.5,232.5 L319.9,235.6 L320.6,241.3 L321.3,247.2 L322.0,253.1 L322.7,259.1 L323.4,264.9 L324.1,270.6 L324.8,275.9 L325.0,277.4 L325.5,280.9 L326.2,285.6 L326.9,290.1 L327.6,294.7 L328.3,299.3 L328.4,300.0 L329.0,304.1 L329.7,309.0 L330.4,313.9 L331.1,318.8 L331.8,323.8 L332.5,328.9 L333.2,334.1 L333.9,339.4 L334.2,341.7 L334.6,345.1 L335.3,351.4 L336.0,356.7 L336.1,357.3 L336.7,360.5 L337.4,364.1 L338.1,367.1 L338.8,369.2 L339.5,370.0 L339.5,370.0 L340.2,369.9 L340.9,369.6 L341.6,369.2 L342.3,368.7 L343.0,368.2 L343.7,367.6 L344.4,367.0 L345.1,366.4 L345.8,365.9 L346.5,365.5 L347.2,365.3 L347.8,365.2 L347.9,365.2 L348.6,366.0 L349.3,367.8 L350.0,370.4 L350.7,373.5 L351.4,376.8 L351.7,378.3 L352.1,380.6 L352.8,385.8 L353.5,391.8 L353.7,393.5 L354.2,398.3 L354.9,405.3 L355.2,407.8 L355.6,410.6 L356.3,415.4 L357.0,419.7 L357.7,423.8 L358.4,427.5 L359.1,430.8 L359.8,433.8 L360.5,436.4 L360.6,436.7 L361.2,438.6 L361.9,440.4 L362.6,442.0 L363.3,443.5 L364.0,445.0 L364.7,446.6 L365.4,448.3 L365.9,449.8 L366.1,450.4 L366.8,452.9 L367.5,455.6 L368.2,458.5 L368.9,461.6 L369.6,464.8 L370.3,468.1 L371.0,471.4 L371.7,474.7 L371.8,475.2 L372.4,478.1 L373.1,481.7 L373.8,485.5 L374.5,489.3 L375.2,493.0 L375.9,496.7 L376.6,500.0 L376.7,500.5 L377.3,503.2 L378.0,506.3 L378.7,509.3 L379.4,512.2 L380.1,515.1 L380.8,517.8 L381.5,520.4 L382.2,523.0 L382.5,524.0 L382.9,525.4 L383.6,527.7 L384.3,530.0 L385.0,532.2 L385.7,534.3 L386.4,536.3 L387.1,538.3 L387.8,540.1 L388.4,541.6 L388.5,541.8 L389.2,543.5 L389.9,545.2 L390.6,546.8 L391.3,548.4 L392.0,549.9 L392.7,551.3 L393.4,552.6 L394.1,553.7 L394.8,554.7 L395.2,555.2 L395.5,555.6 L396.2,556.4 L396.9,557.2 L397.6,558.0 L398.3,558.6 L399.0,559.2 L399.7,559.7 L400.4,560.0 L401.1,560.1 L401.1,560.1 L401.8,560.1 L402.5,560.0 L403.2,559.8 L403.9,559.7 L404.6,559.4 L405.3,559.2 L406.0,558.8 L406.7,558.5 L407.4,558.1 L408.1,557.7 L408.8,557.3 L408.9,557.2 L409.5,556.7 L410.2,555.8 L410.9,554.6 L411.6,553.2 L412.3,551.6 L413.0,549.9 L413.7,548.2 L414.4,546.5 L414.8,545.5 L415.1,544.8 L415.8,542.9 L416.5,541.0 L417.2,538.9 L417.9,536.7 L418.6,534.5 L419.3,532.2 L420.0,529.9 L420.6,527.9 L420.7,527.6 L421.4,525.2 L422.1,522.8 L422.8,520.3 L423.5,517.8 L424.2,515.2 L424.9,512.6 L425.5,510.3 L425.6,509.9 L426.3,507.3 L427.0,504.6 L427.7,501.9 L428.4,499.2 L429.1,496.4 L429.8,493.4 L430.4,490.8 L430.5,490.4 L431.2,487.1 L431.9,483.6 L432.6,480.0 L433.3,476.4 L434.0,472.8 L434.3,471.3 L434.7,469.3 L435.4,465.9 L436.1,462.6 L436.8,459.1 L437.5,455.5 L438.2,451.7 L438.2,451.7 L438.9,447.5 L439.6,442.9 L440.3,438.3 L440.5,437.0 L441.0,433.9 L441.7,429.5 L442.4,425.2 L443.1,420.9 L443.8,416.6 L444.5,412.3 L445.2,408.0 L445.9,403.8 L446.6,399.5 L447.3,395.3 L448.0,391.0 L448.7,386.7 L449.4,382.4 L450.1,378.1 L450.4,376.2 L450.8,373.7 L451.5,369.3 L452.2,364.8 L452.9,360.4 L453.6,355.9 L454.3,351.3 L455.0,346.8 L455.7,342.3 L456.4,337.9 L457.1,333.4 L457.8,329.0 L458.5,324.7 L459.2,320.4 L459.9,316.2 L460.0,315.6 L460.6,312.0 L461.3,307.9 L462.0,303.9 L462.7,299.8 L463.4,295.8 L464.1,291.9 L464.8,288.0 L465.5,284.1 L466.2,280.3 L466.9,276.6 L467.4,274.0 L467.6,273.0 L468.3,269.5 L469.0,266.1 L469.7,262.8 L470.4,259.5 L471.1,256.0 L471.3,255.0 L471.8,252.4 L472.5,248.6 L473.2,244.8 L473.9,240.8 L474.6,236.9 L475.3,233.1 L476.0,229.3 L476.7,225.7 L477.1,223.8 L477.4,222.4 L478.1,219.1 L478.8,215.9 L479.5,212.7 L480.2,209.7 L480.9,206.7 L481.6,203.8 L482.3,201.0 L483.0,198.2 L483.7,195.6 L484.0,194.5 L484.4,193.1 L485.1,190.7 L485.8,188.4 L486.5,186.2 L487.2,184.0 L487.9,181.9 L488.6,179.7 L488.9,178.8 L489.3,177.6 L490.0,175.4 L490.7,173.2 L491.4,171.1 L492.1,169.0 L492.8,166.9 L493.5,165.0 L493.5,165.0 L494.2,163.0 L494.9,161.0 L495.6,159.0 L496.3,157.1 L497.0,155.4 L497.7,153.9 L498.4,152.8 L498.6,152.5 L499.1,151.9 L499.8,151.1 L500.5,150.3 L501.2,149.6 L501.9,148.9 L502.6,148.3 L503.3,147.7 L504.0,147.2 L504.7,146.8 L505.4,146.4 L506.1,146.2 L506.8,146.0 L507.4,146.0 L507.5,146.0 L508.2,146.0 L508.9,146.1 L509.6,146.3 L510.3,146.5 L511.0,146.7 L511.7,146.9 L512.4,147.2 L513.1,147.5 L513.3,147.6 L513.8,147.9 L514.5,148.3 L515.2,148.9 L515.9,149.6 L516.6,150.4 L517.3,151.3 L518.0,152.2 L518.7,153.2 L519.4,154.3 L520.1,155.4 L520.1,155.4 L520.8,156.7 L521.5,158.2 L522.2,159.9 L522.9,161.8 L523.6,163.8 L524.3,165.9 L525.0,168.0 L525.7,170.1 L526.0,171.0 L526.4,172.2 L527.1,174.2 L527.8,176.4 L528.5,178.5 L529.2,180.8 L529.9,183.1 L530.6,185.5 L530.9,186.6 L531.3,188.1 L532.0,190.8 L532.7,193.6 L533.4,196.5 L534.1,199.4 L534.8,202.3 L534.8,202.3 L535.5,205.1 L536.2,207.9 L536.9,210.7 L537.6,213.5 L538.3,216.3 L538.7,217.9 L539.0,219.1 L539.7,221.9 L540.4,224.7 L541.1,227.5 L541.8,230.3 L542.5,233.1 L542.6,233.5 L543.2,235.9 L543.9,238.5 L544.6,241.2 L545.3,243.9 L546.0,246.9 L546.5,249.1 L546.7,250.1 L547.4,253.7 L548.1,257.7 L548.8,261.7 L549.4,264.8 L549.5,265.3 L550.2,268.5 L550.9,271.7 L551.4,274.0 L551.6,275.0 L552.3,278.3 L553.0,281.6 L553.7,284.9 L554.4,288.1 L555.1,291.4 L555.8,294.6 L556.5,297.7 L557.2,300.9 L557.9,304.1 L558.6,307.4 L559.3,310.6 L560.0,313.9 L560.7,317.3 L561.4,320.7 L562.1,324.2 L562.8,327.8 L563.5,331.4 L564.2,335.2 L564.9,339.0 L565.6,343.0 L566.3,347.1 L567.0,351.3 L567.7,355.7 L568.4,360.3 L569.1,365.0 L569.8,369.8 L570.5,374.9 L571.2,380.1 L571.8,384.8 L571.9,385.7 L572.6,394.1 L573.2,399.5 L573.3,399.9 L574.0,402.5 L574.7,404.8 L575.4,406.5 L576.1,407.6 L576.8,408.2 L577.1,408.3 L577.5,408.2 L578.2,407.9 L578.9,407.2 L579.6,406.4 L580.3,405.4 L581.0,404.3 L581.7,403.1 L582.4,402.0 L583.1,400.9 L583.8,400.0 L584.5,399.3 L585.2,398.8 L585.9,398.6 L585.9,398.6 L586.6,398.9 L587.3,399.8 L588.0,401.2 L588.7,403.0 L589.4,405.2 L590.1,407.6 L590.8,410.2 L591.5,413.0 L592.2,415.8 L592.9,418.5 L593.6,421.2 L594.3,423.6 L594.7,424.9 L595.0,425.8 L595.7,428.1 L596.4,430.3 L597.1,432.6 L597.8,434.9 L598.5,437.1 L599.2,439.3 L599.6,440.5 L599.9,441.4 L600.6,443.5 L601.3,445.6 L602.0,447.7 L602.7,449.7 L603.4,451.6 L604.1,453.3 L604.5,454.2 L604.8,454.9 L605.5,456.3 L606.2,457.8 L606.9,459.2 L607.6,460.5 L608.3,461.8 L609.0,463.0 L609.7,464.1 L610.4,465.2 L611.1,466.3 L611.8,467.2 L612.3,467.9 L612.5,468.2 L613.2,469.1 L613.9,469.9 L614.6,470.8 L615.3,471.7 L616.0,472.5 L616.7,473.3 L617.4,474.0 L618.1,474.7 L618.8,475.3 L619.5,475.8 L620.2,476.3 L620.9,476.6 L621.1,476.7 L621.6,476.9 L622.3,477.2 L623.0,477.4 L623.7,477.7 L624.4,477.9 L625.1,478.1 L625.8,478.3 L626.5,478.4 L627.2,478.5 L627.9,478.5 L628.0,478.5 L628.6,478.4 L629.3,478.2 L630.0,477.8 L630.7,477.4 L631.4,476.8 L632.1,476.2 L632.8,475.6 L633.5,475.0 L633.8,474.7 L634.2,474.3 L634.9,473.7 L635.6,473.0 L636.3,472.2 L637.0,471.4 L637.7,470.5 L638.4,469.6 L639.1,468.6 L639.8,467.6 L640.5,466.5 L641.2,465.4 L641.9,464.2 L642.6,463.0 L642.6,463.0 L643.3,461.6 L644.0,460.0 L644.7,458.3 L645.4,456.4 L646.1,454.5 L646.8,452.6 L647.5,450.7 L648.2,448.9 L648.4,448.4 L648.9,447.2 L649.6,445.6 L650.3,444.1 L651.0,442.5 L651.7,441.0 L652.4,439.4 L653.1,437.8 L653.8,436.0 L654.3,434.7 L654.5,434.2 L655.2,432.1 L655.9,430.0 L656.6,427.7 L657.3,425.4 L658.0,423.1 L658.7,420.7 L659.2,419.0 L659.4,418.3 L660.1,415.9 L660.8,413.5 L661.5,411.0 L662.2,408.6 L662.9,406.1 L663.1,405.4 L663.6,403.6 L664.3,401.1 L665.0,398.6 L665.7,396.1 L666.4,393.7 L667.0,391.7 L667.1,391.4 L667.8,389.2 L668.5,387.2 L669.2,385.2 L669.9,383.2 L670.6,381.0 L670.9,380.0 L671.3,378.6 L672.0,375.8 L672.7,372.8 L673.4,369.6 L674.1,366.2 L674.8,362.6 L675.5,359.1 L676.2,355.5 L676.9,351.9 L677.6,348.5 L678.3,345.1 L679.0,342.0 L679.7,339.1 L680.4,336.5 L681.1,334.3 L681.8,332.4 L682.0,332.0 L682.5,331.1 L683.2,330.1 L683.9,328.9 L683.9,328.9 L684.6,327.3 L685.3,325.5 L686.0,323.4 L686.7,321.2 L687.4,318.9 L687.9,317.2 L688.1,316.5 L688.8,313.4 L689.5,310.1 L690.2,307.2 L690.8,305.5 L690.9,305.3 L691.6,303.9 L692.3,302.7 L693.0,301.9 L693.7,301.6 L693.7,301.6 L694.4,302.0 L695.1,303.0 L695.8,304.4 L696.5,306.0 L697.2,307.6 L697.6,308.4 L697.9,309.0 L698.6,310.8 L699.3,312.7 L700.0,314.0 L700.5,314.3 L700.7,314.3 L701.4,313.8 L702.1,312.9 L702.8,311.6 L703.5,310.0 L704.2,308.3 L704.9,306.7 L705.4,305.5 L705.6,305.0 L706.3,303.3 L707.0,301.3 L707.7,299.1 L708.4,296.8 L709.1,294.5 L709.8,292.3 L710.5,290.1 L711.2,288.2 L711.3,287.9 L711.9,286.4 L712.6,284.7 L713.3,283.0 L714.0,281.4 L714.7,279.9 L715.4,278.3 L716.1,276.8 L716.8,275.2 L717.5,273.7 L718.1,272.3 L718.2,272.1 L718.9,270.4 L719.6,268.7 L720.3,267.0 L721.0,265.4 L721.7,263.7 L722.4,262.1 L723.1,260.5 L723.8,259.0 L724.0,258.6 L724.5,257.6 L725.2,256.2 L725.9,254.8 L726.6,253.5 L727.3,252.1 L728.0,250.8 L728.7,249.6 L729.4,248.4 L730.1,247.3 L730.8,246.3 L731.5,245.3 L731.8,244.9 L732.2,244.4 L732.9,243.5 L733.6,242.7 L734.3,241.9 L735.0,241.1 L735.7,240.3 L736.4,239.6 L737.1,239.0 L737.8,238.4 L738.5,237.8 L739.2,237.3 L739.6,237.1 L739.9,236.9 L740.6,236.5 L741.3,236.1 L742.0,235.7 L742.7,235.3 L743.4,235.0 L744.1,234.6 L744.8,234.3 L745.5,234.0 L746.2,233.8 L746.9,233.6 L747.6,233.4 L748.3,233.3 L749.0,233.2 L749.4,233.2 L749.7,233.2 L750.4,233.3 L751.1,233.4 L751.8,233.6 L752.5,233.8 L753.2,234.1 L753.9,234.4 L754.6,234.7 L755.3,235.1 L756.0,235.4 L756.7,235.8 L757.2,236.1 L757.4,236.2 L758.1,236.7 L758.8,237.2 L759.5,237.9 L760.2,238.6 L760.9,239.4 L761.6,240.2 L762.3,241.1 L763.0,242.1 L763.7,243.0 L764.4,244.0 L765.0,244.9 L765.1,245.0 L765.8,246.2 L766.5,247.4 L767.2,248.7 L767.9,250.1 L768.6,251.6 L769.3,253.1 L770.0,254.6 L770.7,256.2 L770.9,256.6 L771.4,257.7 L772.1,259.3 L772.8,260.9 L773.5,262.6 L774.2,264.3 L774.9,266.0 L775.6,267.7 L776.3,269.4 L776.7,270.3 L777.0,271.0 L777.7,272.6 L778.4,274.2 L779.1,275.8 L779.8,277.4 L780.5,279.0 L781.2,280.6 L781.9,282.3 L782.6,284.0 L782.6,284.0 L783.3,285.8 L784.0,287.6 L784.7,289.5 L785.4,291.4 L786.1,293.3 L786.8,295.3 L787.5,297.2 L788.2,299.1 L788.4,299.6 L788.9,300.9 L789.6,302.8 L790.3,304.6 L791.0,306.4 L791.7,308.3 L792.4,310.1 L793.1,312.0 L793.8,313.8 L794.3,315.2 L794.5,315.7 L795.2,317.7 L795.9,319.6 L796.6,321.6 L797.3,323.6 L798.0,325.5 L798.7,327.5 L799.2,328.9 L799.4,329.5 L800.1,331.3 L800.8,333.2 L801.5,335.0 L802.2,336.9 L802.9,338.9 L803.6,341.0 L804.1,342.6 L804.3,343.3 L805.0,346.0 L805.4,347.6 L805.7,349.0 L806.4,352.5 L807.0,354.0 L807.1,354.0 L807.8,354.0 L808.5,354.0 L809.2,354.0 L809.9,354.0 L810.6,354.0 L811.3,354.0 L812.0,354.0 L812.7,354.0 L813.4,354.0 L814.0,354.0 L814.1,354.0 L814.8,353.1 L815.5,351.2 L816.2,349.1 L816.9,347.3 L817.6,346.6 L817.6,346.6 L818.3,346.8 L819.0,347.2 L819.7,347.9 L820.4,348.8 L821.1,349.7 L821.8,350.6 L822.5,351.4 L823.2,352.0 L823.9,352.4 L824.4,352.5 L824.6,352.5 L825.3,351.9 L826.0,350.7 L826.7,349.4 L827.4,348.3 L828.0,347.6 L828.1,347.5 L828.8,347.0 L829.5,346.6 L830.2,346.1 L830.9,345.7 L831.6,345.3 L832.3,345.0 L833.0,344.7 L833.7,344.5 L834.4,344.3 L835.1,344.2 L835.7,344.2 L835.8,344.2 L836.5,345.5 L837.2,347.8 L837.9,350.0 L838.6,351.0 L838.6,351.0 L839.3,351.0 L840.0,351.0 L840.7,351.0 L841.4,351.0 L842.1,350.9 L842.8,350.9 L843.5,350.8 L844.2,350.8 L844.9,350.7 L845.6,350.6 L846.3,350.5 L846.4,350.5 L847.0,348.6 L847.7,344.9 L848.0,344.2 L848.4,343.9 L849.1,343.5 L849.8,343.1 L850.5,342.8 L851.2,342.6 L851.9,342.3 L852.6,342.2 L853.3,342.0 L854.0,341.9 L854.7,341.8 L855.4,341.8 L856.0,341.8 L856.1,341.8 L856.8,342.0 L857.5,342.3 L858.2,342.8 L858.9,343.3 L859.6,343.7 L860.3,344.1 L861.0,344.2 L861.0,344.2 L861.7,344.2 L862.4,344.1 L863.1,344.0 L863.8,343.9 L864.5,343.8 L865.2,343.6 L865.9,343.4 L866.6,343.2 L867.3,343.1 L868.0,342.9 L868.7,342.7 L869.4,342.5 L870.1,342.4 L870.8,342.2 L871.0,342.2 L871.5,342.1 L872.2,342.0 L872.9,341.9 L873.6,341.8 L874.3,341.7 L875.0,341.6 L875.7,341.6 L876.4,341.5 L877.1,341.4 L877.8,341.3 L878.4,341.2 L878.5,341.2 L879.2,341.1 L879.9,341.0 L880.6,340.9 L881.3,340.8 L882.0,340.7 L882.7,340.6 L883.4,340.5 L884.1,340.4 L884.8,340.3 L885.5,340.1 L886.2,340.0 L886.9,339.9 L887.6,339.8 L888.3,339.7 L889.0,339.6 L889.7,339.5 L890.4,339.4 L891.1,339.3 L891.8,339.3 L892.5,339.2 L893.2,339.1 L893.9,339.0 L894.6,338.9 L895.3,338.9 L896.0,338.8 L896.0,338.8 L896.7,338.7 L897.4,338.7 L898.1,338.6 L898.8,338.5 L899.5,338.5 L900.2,338.4 L900.9,338.4 L901.6,338.3 L902.3,338.2 L903.0,338.2 L903.7,338.1 L904.4,338.1 L905.1,338.0 L905.8,338.0 L906.5,338.0 L907.2,337.9 L907.9,337.9 L908.6,337.9 L909.3,337.9 L909.7,337.9 L910.0,337.9 L910.7,337.9 L911.4,337.9 L912.1,337.9 L912.8,337.9 L913.5,337.9 L914.2,337.9 L914.9,338.0 L915.6,338.0 L916.3,338.0 L917.0,338.0 L917.7,338.1 L918.4,338.1 L919.1,338.1 L919.8,338.2 L920.5,338.2 L921.2,338.3 L921.9,338.3 L922.6,338.4 L923.0,338.4" stroke="#EE3D40" stroke-width="5.1" stroke-dasharray="5.9 9.15"/>
<path d="M229.3,341.4 L230.0,334.2 L230.7,327.2 L231.4,320.5 L232.0,315.0 L232.1,314.1 L232.8,308.0 L233.5,302.2 L234.2,296.5 L234.9,290.8 L235.0,290.0 L235.6,285.1 L236.3,279.5 L237.0,274.0 L237.5,270.0 L237.7,268.4 L238.4,263.0 L239.1,257.6 L239.8,252.1 L240.0,250.5 L240.5,246.4 L241.2,240.4 L241.9,234.4 L242.6,228.4 L243.0,225.0 L243.3,222.5 L244.0,216.7 L244.7,211.0 L245.4,205.1 L246.0,200.0 L246.1,199.1 L246.8,192.8 L247.5,186.3 L248.2,180.0 L248.4,178.3 L248.9,174.2 L249.6,168.9 L249.6,168.9 L250.3,164.8 L251.0,160.8 L251.2,159.5 L251.7,155.5 L252.3,150.7 L252.4,150.1 L253.1,146.5 L253.8,143.2 L254.1,141.6 L254.5,139.2 L255.2,134.8 L255.5,132.8 L255.9,130.1 L256.6,125.2 L256.8,124.0 L257.3,121.2 L258.0,117.8 L258.6,114.8 L258.7,114.3 L259.4,110.7 L260.1,107.3 L260.4,105.8 L260.8,103.9 L261.5,100.6 L262.2,97.4 L262.3,97.0 L262.9,94.5 L263.6,91.8 L264.3,89.0 L264.5,88.2 L265.0,86.1 L265.7,83.1 L266.4,80.2 L266.6,79.5 L267.1,77.7 L267.8,75.4 L268.5,73.2 L269.2,71.2 L269.3,70.9 L269.9,69.3 L270.6,67.5 L271.3,65.9 L272.0,64.3 L272.7,62.9 L272.7,62.9 L273.4,61.5 L274.1,60.2 L274.8,58.9 L275.5,57.8 L276.2,56.8 L276.9,56.1 L277.0,56.0 L277.6,55.5 L278.3,55.0 L279.0,54.5 L279.7,54.1 L280.4,53.9 L281.0,53.8 L281.1,53.8 L281.8,53.8 L282.5,54.0 L283.2,54.1 L283.9,54.3 L284.4,54.5 L284.6,54.6 L285.3,55.0 L286.0,55.7 L286.7,56.6 L287.4,57.6 L288.1,58.8 L288.8,60.0 L289.5,61.3 L290.2,62.5 L290.2,62.5 L290.9,63.8 L291.6,65.3 L292.3,66.9 L293.0,68.6 L293.7,70.4 L293.8,70.7 L294.4,72.5 L295.1,74.8 L295.8,77.2 L296.5,79.6 L296.5,79.6 L297.2,81.9 L297.9,84.3 L298.6,86.7 L299.0,88.2 L299.3,89.3 L300.0,92.2 L300.7,95.1 L301.2,97.2 L301.4,98.0 L302.1,101.0 L302.8,104.0 L303.3,106.2 L303.5,107.1 L304.2,110.5 L304.9,114.0 L305.1,115.0 L305.6,117.7 L306.3,121.5 L306.8,124.2 L307.0,125.2 L307.7,128.7 L308.4,132.2 L308.6,133.2 L309.1,135.9 L309.8,139.8 L310.2,142.0 L310.5,143.6 L311.2,147.3 L311.9,151.1 L311.9,151.1 L312.6,155.4 L313.3,159.9 L313.3,159.9 L314.0,164.7 L314.6,168.9 L314.7,169.6 L315.4,174.2 L316.0,178.1 L316.1,178.8 L316.8,183.4 L317.5,188.1 L318.2,192.7 L318.9,197.3 L319.6,202.0 L320.3,206.7 L321.0,211.5 L321.7,216.2 L322.4,221.1 L323.1,226.0 L323.8,231.1 L324.0,232.5 L324.5,236.2 L325.2,241.5 L325.9,246.9 L326.6,252.4 L327.3,258.0 L328.0,263.5 L328.7,269.0 L329.4,274.4 L329.8,277.4 L330.1,279.6 L330.8,284.7 L331.5,289.7 L332.2,294.6 L332.9,299.5 L333.6,304.5 L334.3,309.6 L334.7,312.6 L335.0,314.9 L335.7,320.6 L336.4,326.2 L337.1,331.3 L337.1,331.3 L337.8,335.7 L338.5,339.6 L339.2,343.2 L339.9,346.8 L340.6,350.4 L341.3,354.3 L342.0,358.6 L342.0,358.6 L342.7,363.4 L343.4,368.8 L344.1,374.4 L344.8,380.3 L345.5,386.3 L346.2,392.2 L346.9,397.9 L347.6,403.3 L347.9,405.5 L348.3,408.3 L349.0,413.2 L349.7,417.9 L350.4,422.4 L351.1,426.9 L351.8,431.3 L352.5,435.7 L353.2,440.0 L353.2,440.0 L353.9,444.2 L354.6,448.2 L355.3,452.3 L356.0,456.4 L356.2,457.6 L356.7,460.7 L357.4,465.2 L358.1,469.7 L358.8,474.2 L359.1,476.1 L359.5,478.6 L360.2,483.0 L360.9,487.4 L361.6,491.5 L362.0,493.7 L362.3,495.3 L363.0,498.8 L363.7,502.1 L364.4,505.3 L365.1,508.4 L365.8,511.5 L365.9,511.9 L366.5,514.5 L367.2,517.5 L367.9,520.4 L368.6,523.3 L369.3,526.1 L370.0,528.7 L370.2,529.5 L370.7,531.4 L371.4,534.0 L372.1,536.5 L372.8,539.0 L373.5,541.4 L374.2,543.7 L374.9,545.8 L375.3,547.0 L375.6,547.9 L376.3,549.9 L377.0,551.8 L377.7,553.7 L378.4,555.6 L379.1,557.3 L379.8,559.0 L380.5,560.5 L381.2,562.0 L381.9,563.2 L382.0,563.4 L382.6,564.4 L383.3,565.6 L384.0,566.8 L384.7,567.8 L385.4,568.7 L386.1,569.4 L386.8,569.8 L387.0,569.9 L387.5,570.0 L388.2,570.2 L388.9,570.3 L389.6,570.4 L390.3,570.6 L391.0,570.7 L391.7,570.7 L392.4,570.8 L393.1,570.9 L393.8,570.9 L394.5,570.9 L394.8,570.9 L395.2,570.9 L395.9,570.5 L396.6,570.0 L397.3,569.2 L398.0,568.3 L398.7,567.3 L399.4,566.2 L400.1,565.0 L400.8,563.9 L401.1,563.4 L401.5,562.8 L402.2,561.5 L402.9,560.1 L403.6,558.6 L404.3,556.9 L405.0,555.2 L405.0,555.2 L405.7,553.3 L406.4,551.1 L407.1,548.9 L407.8,546.7 L407.9,546.4 L408.5,544.7 L409.2,542.7 L409.9,540.7 L410.6,538.6 L410.9,537.7 L411.3,536.5 L412.0,534.2 L412.7,531.9 L413.4,529.5 L413.4,529.5 L414.1,526.9 L414.8,524.2 L415.5,521.3 L415.7,520.5 L416.2,518.4 L416.9,515.3 L417.6,512.3 L417.7,511.9 L418.3,509.4 L419.0,506.6 L419.7,503.8 L420.0,502.5 L420.4,500.8 L421.1,497.7 L421.8,494.6 L422.0,493.7 L422.5,491.5 L423.2,488.3 L423.9,484.9 L423.9,484.9 L424.6,481.0 L425.3,477.1 L425.5,476.1 L426.0,473.9 L426.7,471.1 L427.4,467.8 L427.5,467.3 L428.1,463.2 L428.8,458.0 L428.8,458.0 L429.5,453.8 L430.2,449.9 L430.4,448.8 L430.9,446.2 L431.6,442.6 L432.0,440.5 L432.3,438.8 L433.0,434.8 L433.7,430.7 L434.4,426.5 L435.1,422.1 L435.8,417.7 L436.5,413.3 L437.2,408.8 L437.9,404.3 L438.6,399.7 L439.3,395.2 L440.0,390.7 L440.7,386.2 L441.4,381.8 L442.1,377.4 L442.8,373.1 L443.5,369.0 L443.6,368.4 L444.2,364.9 L444.9,360.9 L445.6,356.9 L446.3,353.0 L447.0,349.1 L447.7,345.3 L448.4,341.5 L449.1,337.7 L449.8,333.9 L450.5,330.1 L451.2,326.3 L451.9,322.5 L452.6,318.7 L453.3,314.9 L454.0,311.1 L454.7,307.2 L455.3,303.9 L455.4,303.3 L456.1,299.4 L456.8,295.3 L457.5,291.3 L458.2,287.2 L458.9,283.2 L459.6,279.2 L460.3,275.3 L461.0,271.6 L461.5,269.0 L461.7,268.0 L462.4,264.5 L463.1,261.2 L463.8,258.0 L464.5,254.8 L465.2,251.6 L465.9,248.5 L466.6,245.3 L467.3,242.2 L467.4,241.7 L468.0,238.9 L468.7,235.7 L469.4,232.5 L470.1,229.3 L470.8,226.1 L471.3,223.8 L471.5,222.9 L472.2,219.6 L472.9,216.3 L473.6,213.0 L474.3,209.8 L475.0,207.0 L475.2,206.2 L475.7,204.4 L476.4,202.0 L477.1,199.6 L477.8,197.5 L478.5,195.3 L479.2,193.3 L479.9,191.3 L480.6,189.3 L481.0,188.2 L481.3,187.4 L482.0,185.4 L482.7,183.5 L483.4,181.5 L484.1,179.7 L484.8,177.8 L485.5,176.1 L486.2,174.4 L486.9,172.9 L487.5,171.6 L487.6,171.4 L488.3,170.0 L489.0,168.7 L489.7,167.4 L490.4,166.2 L491.1,165.2 L491.8,164.2 L491.8,164.2 L492.5,163.3 L493.2,162.4 L493.9,161.5 L494.6,160.7 L495.3,159.9 L496.0,159.2 L496.7,158.6 L497.4,158.0 L498.1,157.6 L498.6,157.3 L498.8,157.2 L499.5,156.9 L500.2,156.6 L500.9,156.5 L501.0,156.5 L501.6,156.6 L502.3,156.7 L503.0,157.0 L503.7,157.4 L504.4,157.8 L505.1,158.3 L505.8,158.8 L506.0,158.9 L506.5,159.2 L507.2,159.8 L507.9,160.3 L508.6,161.0 L509.3,161.6 L510.0,162.4 L510.7,163.2 L511.4,164.0 L512.1,164.9 L512.3,165.2 L512.8,165.9 L513.5,167.1 L514.2,168.4 L514.9,169.8 L515.6,171.3 L516.3,172.8 L516.8,173.9 L517.0,174.3 L517.7,175.9 L518.4,177.6 L519.1,179.3 L519.8,181.1 L520.5,182.9 L521.2,184.8 L521.9,186.7 L522.6,188.7 L523.3,190.8 L523.4,191.1 L524.0,192.9 L524.7,195.2 L525.4,197.6 L526.1,200.1 L526.8,202.6 L527.5,205.1 L528.2,207.6 L528.5,208.7 L528.9,210.1 L529.6,212.6 L530.3,215.0 L531.0,217.5 L531.7,220.0 L532.4,222.5 L533.1,225.1 L533.4,226.3 L533.8,227.9 L534.5,230.7 L535.2,233.6 L535.9,236.5 L536.6,239.5 L537.3,242.5 L537.7,244.3 L538.0,245.6 L538.7,248.9 L539.4,252.1 L539.6,253.0 L540.1,255.1 L540.8,257.9 L541.5,260.7 L542.2,263.4 L542.9,266.1 L543.6,268.9 L543.9,270.2 L544.3,271.9 L545.0,274.9 L545.7,278.0 L546.4,281.1 L547.1,284.2 L547.8,287.4 L548.5,290.6 L549.2,293.8 L549.9,297.1 L550.6,300.3 L551.3,303.6 L552.0,307.0 L552.7,310.3 L553.4,313.7 L554.1,317.1 L554.8,320.4 L555.5,323.8 L556.2,327.2 L556.9,330.6 L557.6,334.0 L558.3,337.4 L559.0,340.8 L559.7,344.2 L560.4,347.6 L561.1,350.9 L561.8,354.3 L562.5,357.6 L563.2,360.9 L563.9,364.2 L564.6,367.4 L565.3,370.7 L566.0,373.9 L566.7,377.0 L567.4,380.1 L568.1,383.2 L568.8,386.3 L568.9,386.7 L569.5,389.2 L570.2,392.1 L570.9,394.9 L571.6,397.8 L572.3,400.6 L573.0,403.5 L573.2,404.4 L573.7,406.6 L574.4,409.8 L575.1,413.1 L575.8,416.4 L576.5,419.5 L577.1,422.0 L577.2,422.4 L577.9,425.1 L578.6,427.7 L579.3,430.2 L580.0,432.6 L580.7,435.0 L581.4,437.5 L582.0,439.6 L582.1,440.0 L582.8,442.6 L583.5,445.3 L584.2,448.1 L584.9,450.8 L585.6,453.3 L586.3,455.5 L586.9,457.1 L587.0,457.3 L587.7,458.8 L588.4,460.1 L589.1,461.2 L589.8,462.3 L590.5,463.4 L591.2,464.7 L591.8,465.9 L591.9,466.1 L592.6,468.0 L593.3,470.1 L594.0,472.1 L594.7,473.8 L594.7,473.8 L595.4,475.1 L596.1,476.3 L596.8,477.5 L597.5,478.5 L598.2,479.4 L598.9,480.3 L599.6,481.2 L599.6,481.2 L600.3,482.1 L601.0,482.9 L601.7,483.8 L602.4,484.6 L603.1,485.3 L603.8,486.0 L604.5,486.5 L605.2,486.9 L605.5,487.0 L605.9,487.1 L606.6,487.3 L607.3,487.5 L608.0,487.7 L608.7,487.9 L609.4,488.1 L610.1,488.2 L610.8,488.3 L611.5,488.4 L612.2,488.5 L612.9,488.6 L613.6,488.6 L614.3,488.6 L614.3,488.6 L615.0,488.5 L615.7,488.3 L616.4,487.9 L617.1,487.4 L617.8,486.8 L618.5,486.1 L619.2,485.4 L619.9,484.7 L620.6,484.0 L621.1,483.5 L621.3,483.3 L622.0,482.5 L622.7,481.7 L623.4,480.7 L624.1,479.7 L624.8,478.6 L625.5,477.5 L626.0,476.7 L626.2,476.4 L626.9,475.1 L627.6,473.8 L628.3,472.5 L629.0,471.0 L629.7,469.6 L630.4,468.1 L630.5,467.9 L631.1,466.6 L631.8,465.1 L632.5,463.6 L633.2,462.0 L633.9,460.3 L634.4,459.1 L634.6,458.6 L635.3,456.8 L636.0,455.0 L636.7,453.1 L637.4,451.1 L637.7,450.3 L638.1,449.2 L638.8,447.2 L639.5,445.3 L640.2,443.3 L640.6,442.1 L640.9,441.2 L641.6,439.1 L642.3,437.0 L643.0,434.9 L643.6,433.1 L643.7,432.8 L644.4,430.9 L645.1,429.0 L645.8,427.0 L646.1,426.1 L646.5,424.7 L647.2,421.9 L647.9,419.0 L648.4,417.1 L648.6,416.4 L649.3,414.0 L650.0,411.7 L650.7,409.4 L651.0,408.3 L651.4,406.8 L652.1,404.1 L652.8,401.4 L653.3,399.5 L653.5,398.8 L654.2,396.2 L654.9,393.7 L655.6,391.1 L655.7,390.7 L656.3,388.3 L657.0,385.5 L657.7,382.7 L657.8,382.3 L658.4,380.0 L659.1,377.3 L659.8,374.6 L660.5,372.0 L661.2,369.3 L661.9,366.7 L662.6,364.1 L663.3,361.5 L664.0,358.9 L664.7,356.3 L665.4,353.7 L666.1,351.0 L666.8,348.4 L667.5,345.7 L667.5,345.7 L668.2,342.9 L668.9,340.2 L669.3,338.7 L669.6,337.6 L670.3,335.2 L671.0,332.8 L671.7,330.5 L672.2,328.9 L672.4,328.3 L673.1,326.3 L673.8,324.4 L674.5,322.4 L675.2,320.1 L675.2,320.1 L675.9,317.0 L676.6,313.5 L677.1,311.3 L677.3,310.5 L678.0,308.0 L678.7,305.6 L679.4,303.2 L679.6,302.5 L680.1,300.7 L680.8,298.2 L681.5,295.6 L682.0,293.8 L682.2,293.1 L682.9,290.5 L683.6,288.0 L684.3,285.7 L684.5,285.0 L685.0,283.4 L685.7,281.4 L686.4,279.3 L687.1,277.4 L687.5,276.2 L687.8,275.3 L688.5,273.3 L689.2,271.2 L689.9,269.2 L690.4,267.8 L690.6,267.3 L691.3,265.4 L692.0,263.5 L692.7,261.7 L693.4,260.0 L693.7,259.2 L694.1,258.2 L694.8,256.5 L695.5,254.8 L696.2,253.1 L696.9,251.5 L697.2,250.8 L697.6,249.9 L698.3,248.4 L699.0,246.9 L699.7,245.5 L700.4,244.1 L701.1,242.7 L701.5,242.0 L701.8,241.5 L702.5,240.2 L703.2,239.1 L703.9,237.9 L704.6,236.8 L705.3,235.8 L706.0,234.8 L706.0,234.8 L706.7,233.8 L707.4,232.8 L708.1,231.9 L708.8,231.0 L709.5,230.1 L710.2,229.3 L710.9,228.6 L711.6,228.0 L711.7,227.9 L712.3,227.4 L713.0,226.9 L713.7,226.4 L714.4,225.9 L715.1,225.4 L715.8,224.9 L716.5,224.5 L717.2,224.1 L717.9,223.8 L718.6,223.6 L719.3,223.5 L720.0,223.4 L720.1,223.4 L720.7,223.4 L721.4,223.5 L722.1,223.6 L722.8,223.7 L723.5,223.9 L724.2,224.1 L724.9,224.3 L725.6,224.5 L726.3,224.8 L727.0,225.0 L727.7,225.3 L727.9,225.4 L728.4,225.6 L729.1,226.0 L729.8,226.5 L730.5,227.0 L731.2,227.6 L731.9,228.3 L732.6,229.0 L733.3,229.7 L734.0,230.5 L734.7,231.3 L734.7,231.3 L735.4,232.2 L736.1,233.1 L736.8,234.2 L737.5,235.3 L738.2,236.5 L738.9,237.7 L739.6,239.0 L740.2,240.0 L740.3,240.2 L741.0,241.4 L741.7,242.6 L742.4,243.9 L743.1,245.2 L743.8,246.6 L744.5,247.9 L744.5,247.9 L745.2,249.2 L745.9,250.6 L746.6,252.0 L747.3,253.4 L748.0,254.8 L748.7,256.4 L748.8,256.6 L749.4,258.0 L750.1,259.7 L750.8,261.5 L751.5,263.3 L752.2,265.1 L752.3,265.4 L752.9,267.0 L753.6,268.8 L754.3,270.7 L755.0,272.6 L755.6,274.2 L755.7,274.5 L756.4,276.4 L757.1,278.3 L757.8,280.3 L758.5,282.2 L758.8,283.0 L759.2,284.0 L759.9,285.8 L760.6,287.5 L761.3,289.3 L762.0,291.1 L762.1,291.4 L762.7,293.1 L763.4,295.3 L764.1,297.4 L764.8,299.6 L765.0,300.2 L765.5,301.7 L766.2,303.7 L766.9,305.8 L767.6,307.9 L767.9,308.8 L768.3,310.1 L769.0,312.3 L769.7,314.6 L770.4,316.9 L770.5,317.2 L771.1,319.0 L771.8,321.1 L772.5,323.2 L773.2,325.4 L773.4,326.0 L773.9,327.6 L774.6,330.0 L775.3,332.3 L776.0,334.5 L776.1,334.8 L776.7,336.5 L777.4,338.3 L778.1,340.0 L778.8,341.8 L779.1,342.6 L779.5,343.7 L780.2,345.8 L780.9,347.9 L781.6,350.0 L782.3,352.1 L782.3,352.1 L783.0,354.1 L783.7,356.1 L784.4,358.1 L785.1,360.1 L785.3,360.7 L785.8,362.2 L786.5,364.2 L787.2,366.3 L787.9,368.3 L788.2,369.1 L788.6,370.2 L789.3,372.1 L790.0,373.9 L790.7,375.8 L791.4,377.6 L791.5,377.9 L792.1,379.6 L792.8,381.6 L793.5,383.6 L794.2,385.5 L794.5,386.3 L794.9,387.3 L795.6,389.1 L796.3,390.8 L797.0,392.5 L797.7,394.2 L798.0,394.9 L798.4,395.8 L799.1,397.5 L799.8,399.1 L800.5,400.6 L801.2,402.2 L801.7,403.3 L801.9,403.7 L802.6,405.3 L803.3,406.9 L804.0,408.4 L804.7,409.9 L805.4,411.3 L805.8,412.1 L806.1,412.6 L806.8,413.8 L807.5,415.0 L808.2,416.1 L808.9,417.1 L809.6,418.2 L810.1,418.9 L810.3,419.2 L811.0,420.2 L811.7,421.2 L812.4,422.2 L813.1,423.1 L813.8,424.1 L814.5,425.0 L815.2,425.9 L815.9,426.7 L815.9,426.7 L816.6,427.5 L817.3,428.3 L818.0,429.1 L818.7,429.9 L819.4,430.6 L820.1,431.4 L820.8,432.1 L821.5,432.7 L822.0,433.2" stroke="#0000FF" stroke-width="5.4" stroke-dasharray="0.6 8.5"/>
</g>
<g fill="none" stroke-linejoin="round" stroke-linecap="round">
<path d="M765.4,44.6 H844" stroke="#000" stroke-width="4.2"/>
<path d="M765.45,102.5 H843.4" stroke="#FF8000" stroke-width="5.1" stroke-dasharray="7.1 5.7 0.01 6.2"/>
<path d="M765.45,160.3 H843.4" stroke="#EE3D40" stroke-width="5.1" stroke-dasharray="5.9 9.15"/>
<path d="M765.15,218 H838.9" stroke="#0000FF" stroke-width="5.4" stroke-dasharray="0.7 8.41"/>
</g>
<g stroke="#000" stroke-width="2.7" fill="none" stroke-linecap="butt">
<path d="M139.6,0 V635.0"/>
<path d="M922.7,0 V635.0"/>
<path d="M138.25,633.65 H924.0500000000001"/>
<path d="M138.25,1.0 H924.0500000000001"/>
<path d="M127.2,633.6 H139.6"/>
<path d="M922.7,633.6 H935.1"/>
<path d="M133.2,584.9 H139.6"/>
<path d="M922.7,584.9 H929.1"/>
<path d="M127.2,536.2 H139.6"/>
<path d="M922.7,536.2 H935.1"/>
<path d="M133.2,487.5 H139.6"/>
<path d="M922.7,487.5 H929.1"/>
<path d="M127.2,438.8 H139.6"/>
<path d="M922.7,438.8 H935.1"/>
<path d="M133.2,390.1 H139.6"/>
<path d="M922.7,390.1 H929.1"/>
<path d="M127.2,341.5 H139.6"/>
<path d="M922.7,341.5 H935.1"/>
<path d="M133.2,292.8 H139.6"/>
<path d="M922.7,292.8 H929.1"/>
<path d="M127.2,244.1 H139.6"/>
<path d="M922.7,244.1 H935.1"/>
<path d="M133.2,195.4 H139.6"/>
<path d="M922.7,195.4 H929.1"/>
<path d="M127.2,146.7 H139.6"/>
<path d="M922.7,146.7 H935.1"/>
<path d="M133.2,98.0 H139.6"/>
<path d="M922.7,98.0 H929.1"/>
<path d="M127.2,49.3 H139.6"/>
<path d="M922.7,49.3 H935.1"/>
<path d="M133.2,1.0 H139.6"/>
<path d="M922.7,1.0 H929.1"/>
<path d="M206.7,633.65 V646.0"/>
<path d="M206.7,1.0 V13.3"/>
<path d="M318.6,633.65 V640.0"/>
<path d="M318.6,1.0 V7.3"/>
<path d="M430.5,633.65 V646.0"/>
<path d="M430.5,1.0 V13.3"/>
<path d="M542.4,633.65 V640.0"/>
<path d="M542.4,1.0 V7.3"/>
<path d="M654.2,633.65 V646.0"/>
<path d="M654.2,1.0 V13.3"/>
<path d="M766.1,633.65 V640.0"/>
<path d="M766.1,1.0 V7.3"/>
<path d="M878.0,633.65 V646.0"/>
<path d="M878.0,1.0 V13.3"/>
</g>
<g font-family="Liberation Serif, Times New Roman, serif" font-weight="bold" font-size="39.3" fill="#000" style="font-kerning:none">
<text x="118.7" y="61.8" text-anchor="end">0.15</text>
<text x="118.7" y="159.2" text-anchor="end">0.10</text>
<text x="118.7" y="256.6" text-anchor="end">0.05</text>
<text x="118.7" y="353.9" text-anchor="end">0.00</text>
<text x="118.7" y="451.3" text-anchor="end">-0.05</text>
<text x="118.7" y="548.7" text-anchor="end">-0.10</text>
<text x="118.7" y="646.1" text-anchor="end">-0.15</text>
<text x="943.1" y="61.8" text-anchor="start">3</text>
<text x="943.1" y="159.2" text-anchor="start">2</text>
<text x="943.1" y="256.6" text-anchor="start">1</text>
<text x="943.1" y="353.9" text-anchor="start">0</text>
<text x="943.1" y="451.3" text-anchor="start">-1</text>
<text x="943.1" y="548.7" text-anchor="start">-2</text>
<text x="943.1" y="646.1" text-anchor="start">-3</text>
<text x="206.7" y="685.4" text-anchor="middle">0</text>
<text x="430.5" y="685.4" text-anchor="middle">50</text>
<text x="654.2" y="685.4" text-anchor="middle">100</text>
<text x="878.0" y="685.4" text-anchor="middle">150</text>
<text x="531.2" y="728.6" text-anchor="middle" font-size="38.6">Time(μs)</text>
<text transform="translate(30,315.8) rotate(-90)" text-anchor="middle">Voltage(kV)</text>
<text transform="translate(1016.5,316.5) rotate(-90)" text-anchor="middle">Current(kA)</text>
</g>
<g font-family="Liberation Serif, Times New Roman, serif" fill="#000">
<g transform="translate(869.6,58.7) matrix(0.909,0,-0.2486,1,0,0)"><text x="-10.0" y="0.3" font-size="40" font-style="italic">V</text></g>
<text x="888.2" y="70.0" font-size="27">s</text>
<g transform="translate(869.6,115.9) matrix(0.909,0,-0.2486,1,0,0)"><text x="-10.0" y="0.3" font-size="40" font-style="italic">V</text></g>
<text x="888.2" y="127.6" font-size="27">f</text>
<g transform="translate(862.5,174.8) matrix(1,0,-0.092,1,0,0)"><text x="0" y="0" font-size="40" font-style="italic">I</text></g>
<text x="877.0" y="185.2" font-size="27">s</text>
<g transform="translate(862.5,232.1) matrix(1,0,-0.092,1,0,0)"><text x="0" y="0" font-size="40" font-style="italic">I</text></g>
<text x="877.0" y="243.3" font-size="27">f</text>
</g>
</svg>
</body></html>
